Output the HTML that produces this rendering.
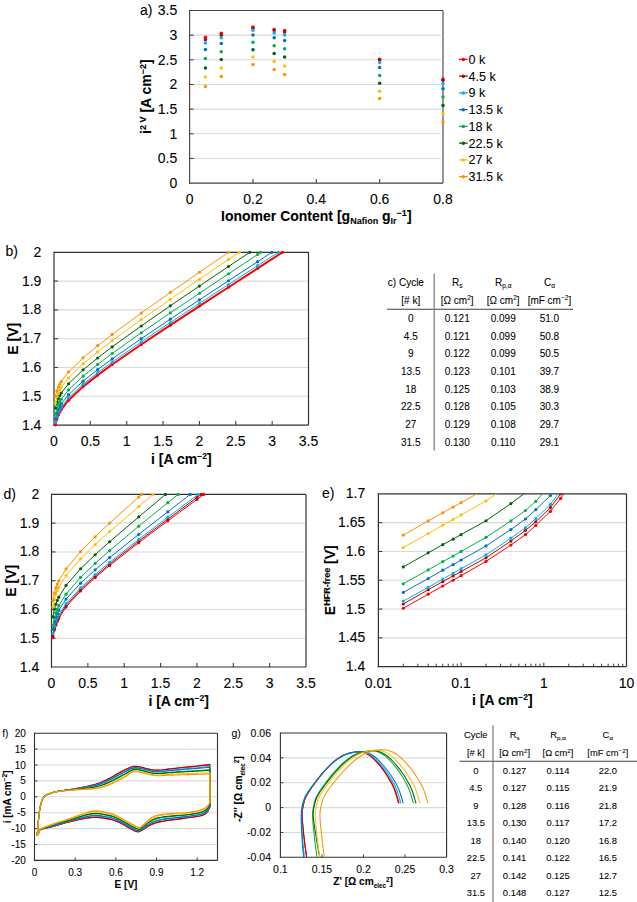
<!DOCTYPE html>
<html><head><meta charset="utf-8"><title>Figure</title>
<style>
html,body{margin:0;padding:0;background:#fff;}
body{width:637px;height:902px;overflow:hidden;}
svg{display:block;font-family:"Liberation Sans", sans-serif;}
text{stroke:#000;stroke-width:0.08px;paint-order:stroke;}
</style></head>
<body>
<svg width="637" height="902" viewBox="0 0 637 902">
<rect x="0" y="0" width="637" height="902" fill="#fff"/>
<line x1="189.6" y1="158.44" x2="441" y2="158.44" stroke="#d9d9d9" stroke-width="1.1" />
<line x1="189.6" y1="158.44" x2="193.6" y2="158.44" stroke="#404040" stroke-width="1.1" />
<line x1="189.6" y1="133.79" x2="441" y2="133.79" stroke="#d9d9d9" stroke-width="1.1" />
<line x1="189.6" y1="133.79" x2="193.6" y2="133.79" stroke="#404040" stroke-width="1.1" />
<line x1="189.6" y1="109.13" x2="441" y2="109.13" stroke="#d9d9d9" stroke-width="1.1" />
<line x1="189.6" y1="109.13" x2="193.6" y2="109.13" stroke="#404040" stroke-width="1.1" />
<line x1="189.6" y1="84.47" x2="441" y2="84.47" stroke="#d9d9d9" stroke-width="1.1" />
<line x1="189.6" y1="84.47" x2="193.6" y2="84.47" stroke="#404040" stroke-width="1.1" />
<line x1="189.6" y1="59.81" x2="441" y2="59.81" stroke="#d9d9d9" stroke-width="1.1" />
<line x1="189.6" y1="59.81" x2="193.6" y2="59.81" stroke="#404040" stroke-width="1.1" />
<line x1="189.6" y1="35.16" x2="441" y2="35.16" stroke="#d9d9d9" stroke-width="1.1" />
<line x1="189.6" y1="35.16" x2="193.6" y2="35.16" stroke="#404040" stroke-width="1.1" />
<line x1="252.95" y1="183.1" x2="252.95" y2="179.1" stroke="#404040" stroke-width="1.1" />
<line x1="316.3" y1="183.1" x2="316.3" y2="179.1" stroke="#404040" stroke-width="1.1" />
<line x1="379.65" y1="183.1" x2="379.65" y2="179.1" stroke="#404040" stroke-width="1.1" />
<line x1="189.6" y1="10.5" x2="443" y2="10.5" stroke="#404040" stroke-width="1.1" />
<line x1="443" y1="10.5" x2="443" y2="183.1" stroke="#404040" stroke-width="1.1" />
<line x1="189.6" y1="9.95" x2="189.6" y2="183.65" stroke="#404040" stroke-width="1.1" />
<line x1="189.05" y1="183.1" x2="443" y2="183.1" stroke="#404040" stroke-width="1.1" />
<text x="177.2" y="187.9" font-size="14" text-anchor="end" font-weight="normal" fill="#000" >0</text>
<text x="177.2" y="163.24" font-size="14" text-anchor="end" font-weight="normal" fill="#000" >0.5</text>
<text x="177.2" y="138.59" font-size="14" text-anchor="end" font-weight="normal" fill="#000" >1</text>
<text x="177.2" y="113.93" font-size="14" text-anchor="end" font-weight="normal" fill="#000" >1.5</text>
<text x="177.2" y="89.27" font-size="14" text-anchor="end" font-weight="normal" fill="#000" >2</text>
<text x="177.2" y="64.61" font-size="14" text-anchor="end" font-weight="normal" fill="#000" >2.5</text>
<text x="177.2" y="39.96" font-size="14" text-anchor="end" font-weight="normal" fill="#000" >3</text>
<text x="177.2" y="15.3" font-size="14" text-anchor="end" font-weight="normal" fill="#000" >3.5</text>
<text x="189.6" y="204.4" font-size="14" text-anchor="middle" font-weight="normal" fill="#000" >0</text>
<text x="252.95" y="204.4" font-size="14" text-anchor="middle" font-weight="normal" fill="#000" >0.2</text>
<text x="316.3" y="204.4" font-size="14" text-anchor="middle" font-weight="normal" fill="#000" >0.4</text>
<text x="379.65" y="204.4" font-size="14" text-anchor="middle" font-weight="normal" fill="#000" >0.6</text>
<text x="443" y="204.4" font-size="14" text-anchor="middle" font-weight="normal" fill="#000" >0.8</text>
<text x="140" y="14.6" font-size="14" text-anchor="start" font-weight="normal" fill="#000" >a)</text>
<text transform="translate(151.4,96.6) rotate(-90)" font-size="14" font-weight="bold" text-anchor="middle">i<tspan font-size="9" dy="-5">2 V</tspan><tspan dy="5"> [A cm</tspan><tspan font-size="9" dy="-5">&#8722;2</tspan><tspan dy="5">]</tspan></text>
<text x="316.3" y="221.2" font-size="14" font-weight="bold" text-anchor="middle">Ionomer Content [g<tspan font-size="9" dy="3">Nafion</tspan><tspan dy="-3"> g</tspan><tspan font-size="9" dy="3">Ir</tspan><tspan font-size="9" dy="-8">&#8722;1</tspan><tspan dy="5">]</tspan></text>
<circle cx="205.44" cy="37.18" r="1.75" fill="#ff0000"/>
<circle cx="221.28" cy="33.18" r="1.75" fill="#ff0000"/>
<circle cx="252.95" cy="27.07" r="1.75" fill="#ff0000"/>
<circle cx="274.17" cy="29.58" r="1.75" fill="#ff0000"/>
<circle cx="284.62" cy="30.57" r="1.75" fill="#ff0000"/>
<circle cx="379.65" cy="59.32" r="1.75" fill="#ff0000"/>
<circle cx="443" cy="79.29" r="1.75" fill="#ff0000"/>
<circle cx="205.44" cy="39.79" r="1.75" fill="#c00000"/>
<circle cx="221.28" cy="35.16" r="1.75" fill="#c00000"/>
<circle cx="252.95" cy="28.25" r="1.75" fill="#c00000"/>
<circle cx="274.17" cy="30.57" r="1.75" fill="#c00000"/>
<circle cx="284.62" cy="32" r="1.75" fill="#c00000"/>
<circle cx="379.65" cy="59.96" r="1.75" fill="#c00000"/>
<circle cx="443" cy="80.28" r="1.75" fill="#c00000"/>
<circle cx="205.44" cy="42.9" r="1.75" fill="#00b0f0"/>
<circle cx="221.28" cy="37.87" r="1.75" fill="#00b0f0"/>
<circle cx="252.95" cy="30.37" r="1.75" fill="#00b0f0"/>
<circle cx="274.17" cy="32.99" r="1.75" fill="#00b0f0"/>
<circle cx="284.62" cy="35.01" r="1.75" fill="#00b0f0"/>
<circle cx="379.65" cy="62.58" r="1.75" fill="#00b0f0"/>
<circle cx="443" cy="83.49" r="1.75" fill="#00b0f0"/>
<circle cx="205.44" cy="49.41" r="1.75" fill="#0070c0"/>
<circle cx="221.28" cy="43.39" r="1.75" fill="#0070c0"/>
<circle cx="252.95" cy="34.91" r="1.75" fill="#0070c0"/>
<circle cx="274.17" cy="37.77" r="1.75" fill="#0070c0"/>
<circle cx="284.62" cy="40.48" r="1.75" fill="#0070c0"/>
<circle cx="379.65" cy="67.61" r="1.75" fill="#0070c0"/>
<circle cx="443" cy="88.81" r="1.75" fill="#0070c0"/>
<circle cx="205.44" cy="58.58" r="1.75" fill="#00b050"/>
<circle cx="221.28" cy="51.68" r="1.75" fill="#00b050"/>
<circle cx="252.95" cy="42.31" r="1.75" fill="#00b050"/>
<circle cx="274.17" cy="45.81" r="1.75" fill="#00b050"/>
<circle cx="284.62" cy="48.67" r="1.75" fill="#00b050"/>
<circle cx="379.65" cy="75.5" r="1.75" fill="#00b050"/>
<circle cx="443" cy="97.1" r="1.75" fill="#00b050"/>
<circle cx="205.44" cy="68" r="1.75" fill="#00640a"/>
<circle cx="221.28" cy="59.57" r="1.75" fill="#00640a"/>
<circle cx="252.95" cy="49.8" r="1.75" fill="#00640a"/>
<circle cx="274.17" cy="53.6" r="1.75" fill="#00640a"/>
<circle cx="284.62" cy="57.1" r="1.75" fill="#00640a"/>
<circle cx="379.65" cy="83.29" r="1.75" fill="#00640a"/>
<circle cx="443" cy="105.58" r="1.75" fill="#00640a"/>
<circle cx="205.44" cy="76.98" r="1.75" fill="#ffc000"/>
<circle cx="221.28" cy="68" r="1.75" fill="#ffc000"/>
<circle cx="252.95" cy="57" r="1.75" fill="#ffc000"/>
<circle cx="274.17" cy="61.59" r="1.75" fill="#ffc000"/>
<circle cx="284.62" cy="65.98" r="1.75" fill="#ffc000"/>
<circle cx="379.65" cy="91.23" r="1.75" fill="#ffc000"/>
<circle cx="443" cy="113.91" r="1.75" fill="#ffc000"/>
<circle cx="205.44" cy="86.39" r="1.75" fill="#ff9200"/>
<circle cx="221.28" cy="76.48" r="1.75" fill="#ff9200"/>
<circle cx="252.95" cy="64.5" r="1.75" fill="#ff9200"/>
<circle cx="274.17" cy="69.58" r="1.75" fill="#ff9200"/>
<circle cx="284.62" cy="74.61" r="1.75" fill="#ff9200"/>
<circle cx="379.65" cy="98.58" r="1.75" fill="#ff9200"/>
<circle cx="443" cy="121.9" r="1.75" fill="#ff9200"/>
<line x1="459" y1="59.4" x2="467.7" y2="59.4" stroke="#ff0000" stroke-width="1.3" />
<circle cx="463.3" cy="59.4" r="1.75" fill="#ff0000"/>
<text x="468.6" y="63.9" font-size="12.6" text-anchor="start" font-weight="normal" fill="#000" >0 k</text>
<line x1="459" y1="76.15" x2="467.7" y2="76.15" stroke="#c00000" stroke-width="1.3" />
<circle cx="463.3" cy="76.15" r="1.75" fill="#c00000"/>
<text x="468.6" y="80.65" font-size="12.6" text-anchor="start" font-weight="normal" fill="#000" >4.5 k</text>
<line x1="459" y1="92.9" x2="467.7" y2="92.9" stroke="#00b0f0" stroke-width="1.3" />
<circle cx="463.3" cy="92.9" r="1.75" fill="#00b0f0"/>
<text x="468.6" y="97.4" font-size="12.6" text-anchor="start" font-weight="normal" fill="#000" >9 k</text>
<line x1="459" y1="109.65" x2="467.7" y2="109.65" stroke="#0070c0" stroke-width="1.3" />
<circle cx="463.3" cy="109.65" r="1.75" fill="#0070c0"/>
<text x="468.6" y="114.15" font-size="12.6" text-anchor="start" font-weight="normal" fill="#000" >13.5 k</text>
<line x1="459" y1="126.4" x2="467.7" y2="126.4" stroke="#00b050" stroke-width="1.3" />
<circle cx="463.3" cy="126.4" r="1.75" fill="#00b050"/>
<text x="468.6" y="130.9" font-size="12.6" text-anchor="start" font-weight="normal" fill="#000" >18 k</text>
<line x1="459" y1="143.15" x2="467.7" y2="143.15" stroke="#00640a" stroke-width="1.3" />
<circle cx="463.3" cy="143.15" r="1.75" fill="#00640a"/>
<text x="468.6" y="147.65" font-size="12.6" text-anchor="start" font-weight="normal" fill="#000" >22.5 k</text>
<line x1="459" y1="159.9" x2="467.7" y2="159.9" stroke="#ffc000" stroke-width="1.3" />
<circle cx="463.3" cy="159.9" r="1.75" fill="#ffc000"/>
<text x="468.6" y="164.4" font-size="12.6" text-anchor="start" font-weight="normal" fill="#000" >27 k</text>
<line x1="459" y1="176.65" x2="467.7" y2="176.65" stroke="#ff9200" stroke-width="1.3" />
<circle cx="463.3" cy="176.65" r="1.75" fill="#ff9200"/>
<text x="468.6" y="181.15" font-size="12.6" text-anchor="start" font-weight="normal" fill="#000" >31.5 k</text>
<line x1="54" y1="396.3" x2="307.5" y2="396.3" stroke="#d9d9d9" stroke-width="1.1" />
<line x1="54" y1="396.3" x2="58" y2="396.3" stroke="#404040" stroke-width="1.1" />
<line x1="54" y1="367.5" x2="307.5" y2="367.5" stroke="#d9d9d9" stroke-width="1.1" />
<line x1="54" y1="367.5" x2="58" y2="367.5" stroke="#404040" stroke-width="1.1" />
<line x1="54" y1="338.7" x2="307.5" y2="338.7" stroke="#d9d9d9" stroke-width="1.1" />
<line x1="54" y1="338.7" x2="58" y2="338.7" stroke="#404040" stroke-width="1.1" />
<line x1="54" y1="309.9" x2="307.5" y2="309.9" stroke="#d9d9d9" stroke-width="1.1" />
<line x1="54" y1="309.9" x2="58" y2="309.9" stroke="#404040" stroke-width="1.1" />
<line x1="54" y1="281.1" x2="307.5" y2="281.1" stroke="#d9d9d9" stroke-width="1.1" />
<line x1="54" y1="281.1" x2="58" y2="281.1" stroke="#404040" stroke-width="1.1" />
<line x1="90.36" y1="425.1" x2="90.36" y2="421.1" stroke="#404040" stroke-width="1.1" />
<line x1="126.71" y1="425.1" x2="126.71" y2="421.1" stroke="#404040" stroke-width="1.1" />
<line x1="163.07" y1="425.1" x2="163.07" y2="421.1" stroke="#404040" stroke-width="1.1" />
<line x1="199.43" y1="425.1" x2="199.43" y2="421.1" stroke="#404040" stroke-width="1.1" />
<line x1="235.79" y1="425.1" x2="235.79" y2="421.1" stroke="#404040" stroke-width="1.1" />
<line x1="272.14" y1="425.1" x2="272.14" y2="421.1" stroke="#404040" stroke-width="1.1" />
<line x1="54" y1="252.3" x2="308.5" y2="252.3" stroke="#303030" stroke-width="1.2" />
<line x1="308.5" y1="252.3" x2="308.5" y2="425.1" stroke="#303030" stroke-width="1.2" />
<line x1="54" y1="251.7" x2="54" y2="425.7" stroke="#303030" stroke-width="1.2" />
<line x1="53.4" y1="425.1" x2="308.5" y2="425.1" stroke="#303030" stroke-width="1.2" />
<polyline points="55.45,424.81 56.91,418.86 58.36,415 59.82,412.02 61.27,409.52 68.54,400.17 83.09,386.61 97.63,375.16 112.17,364.55 141.26,344.48 170.34,325.14 199.43,306.12 228.51,287.26 257.6,268.46 282.47,252.3" fill="none" stroke="#ff0000" stroke-width="2.0" stroke-linejoin="round" />
<circle cx="55.45" cy="424.81" r="1.6" fill="#ff0000"/>
<circle cx="56.91" cy="418.86" r="1.6" fill="#ff0000"/>
<circle cx="58.36" cy="415" r="1.6" fill="#ff0000"/>
<circle cx="59.82" cy="412.02" r="1.6" fill="#ff0000"/>
<circle cx="61.27" cy="409.52" r="1.6" fill="#ff0000"/>
<circle cx="68.54" cy="400.17" r="1.6" fill="#ff0000"/>
<circle cx="83.09" cy="386.61" r="1.6" fill="#ff0000"/>
<circle cx="97.63" cy="375.16" r="1.6" fill="#ff0000"/>
<circle cx="112.17" cy="364.55" r="1.6" fill="#ff0000"/>
<circle cx="141.26" cy="344.48" r="1.6" fill="#ff0000"/>
<circle cx="170.34" cy="325.14" r="1.6" fill="#ff0000"/>
<circle cx="199.43" cy="306.12" r="1.6" fill="#ff0000"/>
<circle cx="228.51" cy="287.26" r="1.6" fill="#ff0000"/>
<circle cx="257.6" cy="268.46" r="1.6" fill="#ff0000"/>
<circle cx="282.47" cy="252.3" r="1.6" fill="#ff0000"/>
<polyline points="55.45,422.31 56.91,416.37 58.36,412.54 59.82,409.58 61.27,407.09 68.54,397.77 83.09,384.19 97.63,372.71 112.17,362.05 141.26,341.9 170.34,322.49 199.43,303.42 228.51,284.52 257.6,265.71 278.47,252.3" fill="none" stroke="#00b0f0" stroke-width="1.0" stroke-linejoin="round" />
<circle cx="55.45" cy="422.31" r="1.6" fill="#00b0f0"/>
<circle cx="56.91" cy="416.37" r="1.6" fill="#00b0f0"/>
<circle cx="58.36" cy="412.54" r="1.6" fill="#00b0f0"/>
<circle cx="59.82" cy="409.58" r="1.6" fill="#00b0f0"/>
<circle cx="61.27" cy="407.09" r="1.6" fill="#00b0f0"/>
<circle cx="68.54" cy="397.77" r="1.6" fill="#00b0f0"/>
<circle cx="83.09" cy="384.19" r="1.6" fill="#00b0f0"/>
<circle cx="97.63" cy="372.71" r="1.6" fill="#00b0f0"/>
<circle cx="112.17" cy="362.05" r="1.6" fill="#00b0f0"/>
<circle cx="141.26" cy="341.9" r="1.6" fill="#00b0f0"/>
<circle cx="170.34" cy="322.49" r="1.6" fill="#00b0f0"/>
<circle cx="199.43" cy="303.42" r="1.6" fill="#00b0f0"/>
<circle cx="228.51" cy="284.52" r="1.6" fill="#00b0f0"/>
<circle cx="257.6" cy="265.71" r="1.6" fill="#00b0f0"/>
<circle cx="278.47" cy="252.3" r="1.6" fill="#00b0f0"/>
<polyline points="55.45,419.05 56.91,413.17 58.36,409.37 59.82,406.43 61.27,403.97 68.54,394.68 83.09,381.13 97.63,369.63 112.17,358.94 141.26,338.69 170.34,319.13 199.43,299.88 228.51,280.77 257.6,261.71 271.85,252.3" fill="none" stroke="#0070c0" stroke-width="1.0" stroke-linejoin="round" />
<circle cx="55.45" cy="419.05" r="1.6" fill="#0070c0"/>
<circle cx="56.91" cy="413.17" r="1.6" fill="#0070c0"/>
<circle cx="58.36" cy="409.37" r="1.6" fill="#0070c0"/>
<circle cx="59.82" cy="406.43" r="1.6" fill="#0070c0"/>
<circle cx="61.27" cy="403.97" r="1.6" fill="#0070c0"/>
<circle cx="68.54" cy="394.68" r="1.6" fill="#0070c0"/>
<circle cx="83.09" cy="381.13" r="1.6" fill="#0070c0"/>
<circle cx="97.63" cy="369.63" r="1.6" fill="#0070c0"/>
<circle cx="112.17" cy="358.94" r="1.6" fill="#0070c0"/>
<circle cx="141.26" cy="338.69" r="1.6" fill="#0070c0"/>
<circle cx="170.34" cy="319.13" r="1.6" fill="#0070c0"/>
<circle cx="199.43" cy="299.88" r="1.6" fill="#0070c0"/>
<circle cx="228.51" cy="280.77" r="1.6" fill="#0070c0"/>
<circle cx="257.6" cy="261.71" r="1.6" fill="#0070c0"/>
<circle cx="271.85" cy="252.3" r="1.6" fill="#0070c0"/>
<polyline points="55.45,414.18 56.91,408.38 58.36,404.62 59.82,401.7 61.27,399.23 68.54,389.91 83.09,376.17 97.63,364.44 112.17,353.52 141.26,332.82 170.34,312.86 199.43,293.25 228.51,273.83 257.6,254.51 260.65,252.3" fill="none" stroke="#00b050" stroke-width="1.0" stroke-linejoin="round" />
<circle cx="55.45" cy="414.18" r="1.6" fill="#00b050"/>
<circle cx="56.91" cy="408.38" r="1.6" fill="#00b050"/>
<circle cx="58.36" cy="404.62" r="1.6" fill="#00b050"/>
<circle cx="59.82" cy="401.7" r="1.6" fill="#00b050"/>
<circle cx="61.27" cy="399.23" r="1.6" fill="#00b050"/>
<circle cx="68.54" cy="389.91" r="1.6" fill="#00b050"/>
<circle cx="83.09" cy="376.17" r="1.6" fill="#00b050"/>
<circle cx="97.63" cy="364.44" r="1.6" fill="#00b050"/>
<circle cx="112.17" cy="353.52" r="1.6" fill="#00b050"/>
<circle cx="141.26" cy="332.82" r="1.6" fill="#00b050"/>
<circle cx="170.34" cy="312.86" r="1.6" fill="#00b050"/>
<circle cx="199.43" cy="293.25" r="1.6" fill="#00b050"/>
<circle cx="228.51" cy="273.83" r="1.6" fill="#00b050"/>
<circle cx="257.6" cy="254.51" r="1.6" fill="#00b050"/>
<circle cx="260.65" cy="252.3" r="1.6" fill="#00b050"/>
<polyline points="55.45,408.09 56.91,402.29 58.36,398.53 59.82,395.6 61.27,393.12 68.54,383.73 83.09,369.84 97.63,357.98 112.17,346.92 141.26,325.98 170.34,305.81 199.43,286.04 228.51,266.5 249.82,252.3" fill="none" stroke="#00640a" stroke-width="1.0" stroke-linejoin="round" />
<circle cx="55.45" cy="408.09" r="1.6" fill="#00640a"/>
<circle cx="56.91" cy="402.29" r="1.6" fill="#00640a"/>
<circle cx="58.36" cy="398.53" r="1.6" fill="#00640a"/>
<circle cx="59.82" cy="395.6" r="1.6" fill="#00640a"/>
<circle cx="61.27" cy="393.12" r="1.6" fill="#00640a"/>
<circle cx="68.54" cy="383.73" r="1.6" fill="#00640a"/>
<circle cx="83.09" cy="369.84" r="1.6" fill="#00640a"/>
<circle cx="97.63" cy="357.98" r="1.6" fill="#00640a"/>
<circle cx="112.17" cy="346.92" r="1.6" fill="#00640a"/>
<circle cx="141.26" cy="325.98" r="1.6" fill="#00640a"/>
<circle cx="170.34" cy="305.81" r="1.6" fill="#00640a"/>
<circle cx="199.43" cy="286.04" r="1.6" fill="#00640a"/>
<circle cx="228.51" cy="266.5" r="1.6" fill="#00640a"/>
<circle cx="249.82" cy="252.3" r="1.6" fill="#00640a"/>
<polyline points="55.45,402.67 56.91,396.7 58.36,392.84 59.82,389.85 61.27,387.32 68.54,377.79 83.09,363.78 97.63,351.84 112.17,340.73 141.26,319.65 170.34,299.29 199.43,279.26 228.51,259.39 239.06,252.3" fill="none" stroke="#ffc000" stroke-width="1.0" stroke-linejoin="round" />
<circle cx="55.45" cy="402.67" r="1.6" fill="#ffc000"/>
<circle cx="56.91" cy="396.7" r="1.6" fill="#ffc000"/>
<circle cx="58.36" cy="392.84" r="1.6" fill="#ffc000"/>
<circle cx="59.82" cy="389.85" r="1.6" fill="#ffc000"/>
<circle cx="61.27" cy="387.32" r="1.6" fill="#ffc000"/>
<circle cx="68.54" cy="377.79" r="1.6" fill="#ffc000"/>
<circle cx="83.09" cy="363.78" r="1.6" fill="#ffc000"/>
<circle cx="97.63" cy="351.84" r="1.6" fill="#ffc000"/>
<circle cx="112.17" cy="340.73" r="1.6" fill="#ffc000"/>
<circle cx="141.26" cy="319.65" r="1.6" fill="#ffc000"/>
<circle cx="170.34" cy="299.29" r="1.6" fill="#ffc000"/>
<circle cx="199.43" cy="279.26" r="1.6" fill="#ffc000"/>
<circle cx="228.51" cy="259.39" r="1.6" fill="#ffc000"/>
<circle cx="239.06" cy="252.3" r="1.6" fill="#ffc000"/>
<polyline points="55.45,396.61 56.91,390.76 58.36,386.95 59.82,383.99 61.27,381.48 68.54,371.95 83.09,357.82 97.63,345.72 112.17,334.45 141.26,313.06 170.34,292.45 199.43,272.24 228.51,252.3" fill="none" stroke="#ff9200" stroke-width="1.0" stroke-linejoin="round" />
<circle cx="55.45" cy="396.61" r="1.6" fill="#ff9200"/>
<circle cx="56.91" cy="390.76" r="1.6" fill="#ff9200"/>
<circle cx="58.36" cy="386.95" r="1.6" fill="#ff9200"/>
<circle cx="59.82" cy="383.99" r="1.6" fill="#ff9200"/>
<circle cx="61.27" cy="381.48" r="1.6" fill="#ff9200"/>
<circle cx="68.54" cy="371.95" r="1.6" fill="#ff9200"/>
<circle cx="83.09" cy="357.82" r="1.6" fill="#ff9200"/>
<circle cx="97.63" cy="345.72" r="1.6" fill="#ff9200"/>
<circle cx="112.17" cy="334.45" r="1.6" fill="#ff9200"/>
<circle cx="141.26" cy="313.06" r="1.6" fill="#ff9200"/>
<circle cx="170.34" cy="292.45" r="1.6" fill="#ff9200"/>
<circle cx="199.43" cy="272.24" r="1.6" fill="#ff9200"/>
<circle cx="228.51" cy="252.3" r="1.6" fill="#ff9200"/>
<text x="41.4" y="429.6" font-size="14" text-anchor="end" font-weight="normal" fill="#000" >1.4</text>
<text x="41.4" y="400.8" font-size="14" text-anchor="end" font-weight="normal" fill="#000" >1.5</text>
<text x="41.4" y="372" font-size="14" text-anchor="end" font-weight="normal" fill="#000" >1.6</text>
<text x="41.4" y="343.2" font-size="14" text-anchor="end" font-weight="normal" fill="#000" >1.7</text>
<text x="41.4" y="314.4" font-size="14" text-anchor="end" font-weight="normal" fill="#000" >1.8</text>
<text x="41.4" y="285.6" font-size="14" text-anchor="end" font-weight="normal" fill="#000" >1.9</text>
<text x="41.4" y="256.8" font-size="14" text-anchor="end" font-weight="normal" fill="#000" >2</text>
<text x="54" y="446.4" font-size="14" text-anchor="middle" font-weight="normal" fill="#000" >0</text>
<text x="90.36" y="446.4" font-size="14" text-anchor="middle" font-weight="normal" fill="#000" >0.5</text>
<text x="126.71" y="446.4" font-size="14" text-anchor="middle" font-weight="normal" fill="#000" >1</text>
<text x="163.07" y="446.4" font-size="14" text-anchor="middle" font-weight="normal" fill="#000" >1.5</text>
<text x="199.43" y="446.4" font-size="14" text-anchor="middle" font-weight="normal" fill="#000" >2</text>
<text x="235.79" y="446.4" font-size="14" text-anchor="middle" font-weight="normal" fill="#000" >2.5</text>
<text x="272.14" y="446.4" font-size="14" text-anchor="middle" font-weight="normal" fill="#000" >3</text>
<text x="308.5" y="446.4" font-size="14" text-anchor="middle" font-weight="normal" fill="#000" >3.5</text>
<text x="5.5" y="255.6" font-size="14" text-anchor="start" font-weight="normal" fill="#000" >b)</text>
<text transform="translate(17.6,338.7) rotate(-90)" font-size="14" font-weight="bold" text-anchor="middle">E [V]</text>
<text x="181.3" y="463.5" font-size="14" font-weight="bold" text-anchor="middle">i [A cm<tspan font-size="8.5" dy="-5">&#8722;2</tspan><tspan dy="5">]</tspan></text>
<text x="387.8" y="286" font-size="10" text-anchor="start" font-weight="normal" fill="#000" >c) Cycle</text>
<text x="457.2" y="286.0" font-size="10" text-anchor="middle">R<tspan font-size="6.5" dy="1.5">s</tspan></text>
<text x="503.2" y="286.0" font-size="10" text-anchor="middle">R<tspan font-size="6.5" dy="1.5">p,&#945;</tspan></text>
<text x="549.4" y="286.0" font-size="10" text-anchor="middle">C<tspan font-size="6.5" dy="1.5">&#945;</tspan></text>
<text x="410.8" y="303.6" font-size="10" text-anchor="middle" font-weight="normal" fill="#000" >[# k]</text>
<text x="457.2" y="303.6" font-size="10" text-anchor="middle">[&#937; cm<tspan font-size="6.5" dy="-3.5">2</tspan><tspan dy="3.5">]</tspan></text>
<text x="503.2" y="303.6" font-size="10" text-anchor="middle">[&#937; cm<tspan font-size="6.5" dy="-3.5">2</tspan><tspan dy="3.5">]</tspan></text>
<text x="549.4" y="303.6" font-size="10" text-anchor="middle">[mF cm<tspan font-size="6.5" dy="-3.5">&#8722;2</tspan><tspan dy="3.5">]</tspan></text>
<line x1="387" y1="309.3" x2="573" y2="309.3" stroke="#404040" stroke-width="1.1" />
<line x1="434.2" y1="273.5" x2="434.2" y2="450.5" stroke="#808080" stroke-width="1.3" />
<text x="410.8" y="321.8" font-size="10" text-anchor="middle" font-weight="normal" fill="#000" >0</text>
<text x="457.2" y="321.8" font-size="10" text-anchor="middle" font-weight="normal" fill="#000" >0.121</text>
<text x="503.2" y="321.8" font-size="10" text-anchor="middle" font-weight="normal" fill="#000" >0.099</text>
<text x="549.4" y="321.8" font-size="10" text-anchor="middle" font-weight="normal" fill="#000" >51.0</text>
<text x="410.8" y="339.52" font-size="10" text-anchor="middle" font-weight="normal" fill="#000" >4.5</text>
<text x="457.2" y="339.52" font-size="10" text-anchor="middle" font-weight="normal" fill="#000" >0.121</text>
<text x="503.2" y="339.52" font-size="10" text-anchor="middle" font-weight="normal" fill="#000" >0.099</text>
<text x="549.4" y="339.52" font-size="10" text-anchor="middle" font-weight="normal" fill="#000" >50.8</text>
<text x="410.8" y="357.24" font-size="10" text-anchor="middle" font-weight="normal" fill="#000" >9</text>
<text x="457.2" y="357.24" font-size="10" text-anchor="middle" font-weight="normal" fill="#000" >0.122</text>
<text x="503.2" y="357.24" font-size="10" text-anchor="middle" font-weight="normal" fill="#000" >0.099</text>
<text x="549.4" y="357.24" font-size="10" text-anchor="middle" font-weight="normal" fill="#000" >50.5</text>
<text x="410.8" y="374.96" font-size="10" text-anchor="middle" font-weight="normal" fill="#000" >13.5</text>
<text x="457.2" y="374.96" font-size="10" text-anchor="middle" font-weight="normal" fill="#000" >0.123</text>
<text x="503.2" y="374.96" font-size="10" text-anchor="middle" font-weight="normal" fill="#000" >0.101</text>
<text x="549.4" y="374.96" font-size="10" text-anchor="middle" font-weight="normal" fill="#000" >39.7</text>
<text x="410.8" y="392.68" font-size="10" text-anchor="middle" font-weight="normal" fill="#000" >18</text>
<text x="457.2" y="392.68" font-size="10" text-anchor="middle" font-weight="normal" fill="#000" >0.125</text>
<text x="503.2" y="392.68" font-size="10" text-anchor="middle" font-weight="normal" fill="#000" >0.103</text>
<text x="549.4" y="392.68" font-size="10" text-anchor="middle" font-weight="normal" fill="#000" >38.9</text>
<text x="410.8" y="410.4" font-size="10" text-anchor="middle" font-weight="normal" fill="#000" >22.5</text>
<text x="457.2" y="410.4" font-size="10" text-anchor="middle" font-weight="normal" fill="#000" >0.128</text>
<text x="503.2" y="410.4" font-size="10" text-anchor="middle" font-weight="normal" fill="#000" >0.105</text>
<text x="549.4" y="410.4" font-size="10" text-anchor="middle" font-weight="normal" fill="#000" >30.3</text>
<text x="410.8" y="428.12" font-size="10" text-anchor="middle" font-weight="normal" fill="#000" >27</text>
<text x="457.2" y="428.12" font-size="10" text-anchor="middle" font-weight="normal" fill="#000" >0.129</text>
<text x="503.2" y="428.12" font-size="10" text-anchor="middle" font-weight="normal" fill="#000" >0.108</text>
<text x="549.4" y="428.12" font-size="10" text-anchor="middle" font-weight="normal" fill="#000" >29.7</text>
<text x="410.8" y="445.84" font-size="10" text-anchor="middle" font-weight="normal" fill="#000" >31.5</text>
<text x="457.2" y="445.84" font-size="10" text-anchor="middle" font-weight="normal" fill="#000" >0.130</text>
<text x="503.2" y="445.84" font-size="10" text-anchor="middle" font-weight="normal" fill="#000" >0.110</text>
<text x="549.4" y="445.84" font-size="10" text-anchor="middle" font-weight="normal" fill="#000" >29.1</text>
<line x1="51.5" y1="638.23" x2="305" y2="638.23" stroke="#d9d9d9" stroke-width="1.1" />
<line x1="51.5" y1="638.23" x2="55.5" y2="638.23" stroke="#404040" stroke-width="1.1" />
<line x1="51.5" y1="609.47" x2="305" y2="609.47" stroke="#d9d9d9" stroke-width="1.1" />
<line x1="51.5" y1="609.47" x2="55.5" y2="609.47" stroke="#404040" stroke-width="1.1" />
<line x1="51.5" y1="580.7" x2="305" y2="580.7" stroke="#d9d9d9" stroke-width="1.1" />
<line x1="51.5" y1="580.7" x2="55.5" y2="580.7" stroke="#404040" stroke-width="1.1" />
<line x1="51.5" y1="551.93" x2="305" y2="551.93" stroke="#d9d9d9" stroke-width="1.1" />
<line x1="51.5" y1="551.93" x2="55.5" y2="551.93" stroke="#404040" stroke-width="1.1" />
<line x1="51.5" y1="523.17" x2="305" y2="523.17" stroke="#d9d9d9" stroke-width="1.1" />
<line x1="51.5" y1="523.17" x2="55.5" y2="523.17" stroke="#404040" stroke-width="1.1" />
<line x1="87.86" y1="667" x2="87.86" y2="663" stroke="#404040" stroke-width="1.1" />
<line x1="124.21" y1="667" x2="124.21" y2="663" stroke="#404040" stroke-width="1.1" />
<line x1="160.57" y1="667" x2="160.57" y2="663" stroke="#404040" stroke-width="1.1" />
<line x1="196.93" y1="667" x2="196.93" y2="663" stroke="#404040" stroke-width="1.1" />
<line x1="233.29" y1="667" x2="233.29" y2="663" stroke="#404040" stroke-width="1.1" />
<line x1="269.64" y1="667" x2="269.64" y2="663" stroke="#404040" stroke-width="1.1" />
<line x1="51.5" y1="494.4" x2="306" y2="494.4" stroke="#303030" stroke-width="1.2" />
<line x1="306" y1="494.4" x2="306" y2="667" stroke="#303030" stroke-width="1.2" />
<line x1="51.5" y1="493.8" x2="51.5" y2="667.6" stroke="#303030" stroke-width="1.2" />
<line x1="50.9" y1="667" x2="306" y2="667" stroke="#303030" stroke-width="1.2" />
<polyline points="52.95,637.63 54.41,630.01 55.86,625.17 57.32,621.47 58.77,618.38 66.04,607.03 80.59,590.99 95.13,577.69 109.67,565.5 138.76,542.64 167.84,520.8 196.93,499.45 203.84,494.4" fill="none" stroke="#ff0000" stroke-width="1.0" stroke-linejoin="round" />
<circle cx="52.95" cy="637.63" r="1.6" fill="#ff0000"/>
<circle cx="54.41" cy="630.01" r="1.6" fill="#ff0000"/>
<circle cx="55.86" cy="625.17" r="1.6" fill="#ff0000"/>
<circle cx="57.32" cy="621.47" r="1.6" fill="#ff0000"/>
<circle cx="58.77" cy="618.38" r="1.6" fill="#ff0000"/>
<circle cx="66.04" cy="607.03" r="1.6" fill="#ff0000"/>
<circle cx="80.59" cy="590.99" r="1.6" fill="#ff0000"/>
<circle cx="95.13" cy="577.69" r="1.6" fill="#ff0000"/>
<circle cx="109.67" cy="565.5" r="1.6" fill="#ff0000"/>
<circle cx="138.76" cy="542.64" r="1.6" fill="#ff0000"/>
<circle cx="167.84" cy="520.8" r="1.6" fill="#ff0000"/>
<circle cx="196.93" cy="499.45" r="1.6" fill="#ff0000"/>
<circle cx="203.84" cy="494.4" r="1.6" fill="#ff0000"/>
<polyline points="52.95,635.91 54.41,628.37 55.86,623.57 57.32,619.9 58.77,616.84 66.04,605.56 80.59,589.57 95.13,576.29 109.67,564.07 138.76,541.12 167.84,519.11 196.93,497.52 201.29,494.4" fill="none" stroke="#c00000" stroke-width="1.0" stroke-linejoin="round" />
<circle cx="52.95" cy="635.91" r="1.6" fill="#c00000"/>
<circle cx="54.41" cy="628.37" r="1.6" fill="#c00000"/>
<circle cx="55.86" cy="623.57" r="1.6" fill="#c00000"/>
<circle cx="57.32" cy="619.9" r="1.6" fill="#c00000"/>
<circle cx="58.77" cy="616.84" r="1.6" fill="#c00000"/>
<circle cx="66.04" cy="605.56" r="1.6" fill="#c00000"/>
<circle cx="80.59" cy="589.57" r="1.6" fill="#c00000"/>
<circle cx="95.13" cy="576.29" r="1.6" fill="#c00000"/>
<circle cx="109.67" cy="564.07" r="1.6" fill="#c00000"/>
<circle cx="138.76" cy="541.12" r="1.6" fill="#c00000"/>
<circle cx="167.84" cy="519.11" r="1.6" fill="#c00000"/>
<circle cx="196.93" cy="497.52" r="1.6" fill="#c00000"/>
<circle cx="201.29" cy="494.4" r="1.6" fill="#c00000"/>
<polyline points="52.95,633.63 54.41,626.2 55.86,621.47 57.32,617.84 58.77,614.82 66.04,603.65 80.59,587.78 95.13,574.54 109.67,562.34 138.76,539.32 167.84,517.13 198.24,494.4" fill="none" stroke="#00b0f0" stroke-width="1.0" stroke-linejoin="round" />
<circle cx="52.95" cy="633.63" r="1.6" fill="#00b0f0"/>
<circle cx="54.41" cy="626.2" r="1.6" fill="#00b0f0"/>
<circle cx="55.86" cy="621.47" r="1.6" fill="#00b0f0"/>
<circle cx="57.32" cy="617.84" r="1.6" fill="#00b0f0"/>
<circle cx="58.77" cy="614.82" r="1.6" fill="#00b0f0"/>
<circle cx="66.04" cy="603.65" r="1.6" fill="#00b0f0"/>
<circle cx="80.59" cy="587.78" r="1.6" fill="#00b0f0"/>
<circle cx="95.13" cy="574.54" r="1.6" fill="#00b0f0"/>
<circle cx="109.67" cy="562.34" r="1.6" fill="#00b0f0"/>
<circle cx="138.76" cy="539.32" r="1.6" fill="#00b0f0"/>
<circle cx="167.84" cy="517.13" r="1.6" fill="#00b0f0"/>
<circle cx="198.24" cy="494.4" r="1.6" fill="#00b0f0"/>
<polyline points="52.95,629.37 54.41,621.84 55.86,617.05 57.32,613.39 58.77,610.33 66.04,599.1 80.59,583.16 95.13,569.86 109.67,557.58 138.76,534.35 167.84,511.83 190.24,494.4" fill="none" stroke="#0070c0" stroke-width="1.0" stroke-linejoin="round" />
<circle cx="52.95" cy="629.37" r="1.6" fill="#0070c0"/>
<circle cx="54.41" cy="621.84" r="1.6" fill="#0070c0"/>
<circle cx="55.86" cy="617.05" r="1.6" fill="#0070c0"/>
<circle cx="57.32" cy="613.39" r="1.6" fill="#0070c0"/>
<circle cx="58.77" cy="610.33" r="1.6" fill="#0070c0"/>
<circle cx="66.04" cy="599.1" r="1.6" fill="#0070c0"/>
<circle cx="80.59" cy="583.16" r="1.6" fill="#0070c0"/>
<circle cx="95.13" cy="569.86" r="1.6" fill="#0070c0"/>
<circle cx="109.67" cy="557.58" r="1.6" fill="#0070c0"/>
<circle cx="138.76" cy="534.35" r="1.6" fill="#0070c0"/>
<circle cx="167.84" cy="511.83" r="1.6" fill="#0070c0"/>
<circle cx="190.24" cy="494.4" r="1.6" fill="#0070c0"/>
<polyline points="52.95,625.59 54.41,617.81 55.86,612.85 57.32,609.04 58.77,605.87 66.04,594.14 80.59,577.41 95.13,563.44 109.67,550.54 138.76,526.18 167.84,502.68 178.1,494.4" fill="none" stroke="#00b050" stroke-width="1.0" stroke-linejoin="round" />
<circle cx="52.95" cy="625.59" r="1.6" fill="#00b050"/>
<circle cx="54.41" cy="617.81" r="1.6" fill="#00b050"/>
<circle cx="55.86" cy="612.85" r="1.6" fill="#00b050"/>
<circle cx="57.32" cy="609.04" r="1.6" fill="#00b050"/>
<circle cx="58.77" cy="605.87" r="1.6" fill="#00b050"/>
<circle cx="66.04" cy="594.14" r="1.6" fill="#00b050"/>
<circle cx="80.59" cy="577.41" r="1.6" fill="#00b050"/>
<circle cx="95.13" cy="563.44" r="1.6" fill="#00b050"/>
<circle cx="109.67" cy="550.54" r="1.6" fill="#00b050"/>
<circle cx="138.76" cy="526.18" r="1.6" fill="#00b050"/>
<circle cx="167.84" cy="502.68" r="1.6" fill="#00b050"/>
<circle cx="178.1" cy="494.4" r="1.6" fill="#00b050"/>
<polyline points="52.95,616.97 54.41,609.14 55.86,604.16 57.32,600.35 58.77,597.18 66.04,585.46 80.59,568.76 95.13,554.75 109.67,541.74 138.76,516.91 165.59,494.4" fill="none" stroke="#00640a" stroke-width="1.0" stroke-linejoin="round" />
<circle cx="52.95" cy="616.97" r="1.6" fill="#00640a"/>
<circle cx="54.41" cy="609.14" r="1.6" fill="#00640a"/>
<circle cx="55.86" cy="604.16" r="1.6" fill="#00640a"/>
<circle cx="57.32" cy="600.35" r="1.6" fill="#00640a"/>
<circle cx="58.77" cy="597.18" r="1.6" fill="#00640a"/>
<circle cx="66.04" cy="585.46" r="1.6" fill="#00640a"/>
<circle cx="80.59" cy="568.76" r="1.6" fill="#00640a"/>
<circle cx="95.13" cy="554.75" r="1.6" fill="#00640a"/>
<circle cx="109.67" cy="541.74" r="1.6" fill="#00640a"/>
<circle cx="138.76" cy="516.91" r="1.6" fill="#00640a"/>
<circle cx="165.59" cy="494.4" r="1.6" fill="#00640a"/>
<polyline points="52.95,606.9 54.41,599.19 55.86,594.26 57.32,590.48 58.77,587.32 66.04,575.61 80.59,558.82 95.13,544.68 109.67,531.56 138.76,506.54 153.01,494.4" fill="none" stroke="#ffc000" stroke-width="1.0" stroke-linejoin="round" />
<circle cx="52.95" cy="606.9" r="1.6" fill="#ffc000"/>
<circle cx="54.41" cy="599.19" r="1.6" fill="#ffc000"/>
<circle cx="55.86" cy="594.26" r="1.6" fill="#ffc000"/>
<circle cx="57.32" cy="590.48" r="1.6" fill="#ffc000"/>
<circle cx="58.77" cy="587.32" r="1.6" fill="#ffc000"/>
<circle cx="66.04" cy="575.61" r="1.6" fill="#ffc000"/>
<circle cx="80.59" cy="558.82" r="1.6" fill="#ffc000"/>
<circle cx="95.13" cy="544.68" r="1.6" fill="#ffc000"/>
<circle cx="109.67" cy="531.56" r="1.6" fill="#ffc000"/>
<circle cx="138.76" cy="506.54" r="1.6" fill="#ffc000"/>
<circle cx="153.01" cy="494.4" r="1.6" fill="#ffc000"/>
<polyline points="52.95,600.58 54.41,592.88 55.86,587.94 57.32,584.12 58.77,580.92 66.04,568.94 80.59,551.54 95.13,536.79 109.67,523.07 138.76,496.99 141.67,494.4" fill="none" stroke="#ff9200" stroke-width="1.0" stroke-linejoin="round" />
<circle cx="52.95" cy="600.58" r="1.6" fill="#ff9200"/>
<circle cx="54.41" cy="592.88" r="1.6" fill="#ff9200"/>
<circle cx="55.86" cy="587.94" r="1.6" fill="#ff9200"/>
<circle cx="57.32" cy="584.12" r="1.6" fill="#ff9200"/>
<circle cx="58.77" cy="580.92" r="1.6" fill="#ff9200"/>
<circle cx="66.04" cy="568.94" r="1.6" fill="#ff9200"/>
<circle cx="80.59" cy="551.54" r="1.6" fill="#ff9200"/>
<circle cx="95.13" cy="536.79" r="1.6" fill="#ff9200"/>
<circle cx="109.67" cy="523.07" r="1.6" fill="#ff9200"/>
<circle cx="138.76" cy="496.99" r="1.6" fill="#ff9200"/>
<circle cx="141.67" cy="494.4" r="1.6" fill="#ff9200"/>
<text x="39.2" y="671.5" font-size="14" text-anchor="end" font-weight="normal" fill="#000" >1.4</text>
<text x="39.2" y="642.73" font-size="14" text-anchor="end" font-weight="normal" fill="#000" >1.5</text>
<text x="39.2" y="613.97" font-size="14" text-anchor="end" font-weight="normal" fill="#000" >1.6</text>
<text x="39.2" y="585.2" font-size="14" text-anchor="end" font-weight="normal" fill="#000" >1.7</text>
<text x="39.2" y="556.43" font-size="14" text-anchor="end" font-weight="normal" fill="#000" >1.8</text>
<text x="39.2" y="527.67" font-size="14" text-anchor="end" font-weight="normal" fill="#000" >1.9</text>
<text x="39.2" y="498.9" font-size="14" text-anchor="end" font-weight="normal" fill="#000" >2</text>
<text x="51.5" y="688.4" font-size="14" text-anchor="middle" font-weight="normal" fill="#000" >0</text>
<text x="87.86" y="688.4" font-size="14" text-anchor="middle" font-weight="normal" fill="#000" >0.5</text>
<text x="124.21" y="688.4" font-size="14" text-anchor="middle" font-weight="normal" fill="#000" >1</text>
<text x="160.57" y="688.4" font-size="14" text-anchor="middle" font-weight="normal" fill="#000" >1.5</text>
<text x="196.93" y="688.4" font-size="14" text-anchor="middle" font-weight="normal" fill="#000" >2</text>
<text x="233.29" y="688.4" font-size="14" text-anchor="middle" font-weight="normal" fill="#000" >2.5</text>
<text x="269.64" y="688.4" font-size="14" text-anchor="middle" font-weight="normal" fill="#000" >3</text>
<text x="306" y="688.4" font-size="14" text-anchor="middle" font-weight="normal" fill="#000" >3.5</text>
<text x="3.5" y="498.8" font-size="14" text-anchor="start" font-weight="normal" fill="#000" >d)</text>
<text transform="translate(16.1,580.7) rotate(-90)" font-size="14" font-weight="bold" text-anchor="middle">E [V]</text>
<text x="178.7" y="705.8" font-size="14" font-weight="bold" text-anchor="middle">i [A cm<tspan font-size="8.5" dy="-5">&#8722;2</tspan><tspan dy="5">]</tspan></text>
<line x1="378.4" y1="637.88" x2="625.5" y2="637.88" stroke="#d9d9d9" stroke-width="1.1" />
<line x1="378.4" y1="637.88" x2="382.4" y2="637.88" stroke="#404040" stroke-width="1.1" />
<line x1="378.4" y1="609.07" x2="625.5" y2="609.07" stroke="#d9d9d9" stroke-width="1.1" />
<line x1="378.4" y1="609.07" x2="382.4" y2="609.07" stroke="#404040" stroke-width="1.1" />
<line x1="378.4" y1="580.25" x2="625.5" y2="580.25" stroke="#d9d9d9" stroke-width="1.1" />
<line x1="378.4" y1="580.25" x2="382.4" y2="580.25" stroke="#404040" stroke-width="1.1" />
<line x1="378.4" y1="551.43" x2="625.5" y2="551.43" stroke="#d9d9d9" stroke-width="1.1" />
<line x1="378.4" y1="551.43" x2="382.4" y2="551.43" stroke="#404040" stroke-width="1.1" />
<line x1="378.4" y1="522.62" x2="625.5" y2="522.62" stroke="#d9d9d9" stroke-width="1.1" />
<line x1="378.4" y1="522.62" x2="382.4" y2="522.62" stroke="#404040" stroke-width="1.1" />
<line x1="403.3" y1="666.7" x2="403.3" y2="663.7" stroke="#404040" stroke-width="1.0" />
<line x1="417.86" y1="666.7" x2="417.86" y2="663.7" stroke="#404040" stroke-width="1.0" />
<line x1="428.19" y1="666.7" x2="428.19" y2="663.7" stroke="#404040" stroke-width="1.0" />
<line x1="436.2" y1="666.7" x2="436.2" y2="663.7" stroke="#404040" stroke-width="1.0" />
<line x1="442.75" y1="666.7" x2="442.75" y2="663.7" stroke="#404040" stroke-width="1.0" />
<line x1="448.29" y1="666.7" x2="448.29" y2="663.7" stroke="#404040" stroke-width="1.0" />
<line x1="453.09" y1="666.7" x2="453.09" y2="663.7" stroke="#404040" stroke-width="1.0" />
<line x1="457.32" y1="666.7" x2="457.32" y2="663.7" stroke="#404040" stroke-width="1.0" />
<line x1="486" y1="666.7" x2="486" y2="663.7" stroke="#404040" stroke-width="1.0" />
<line x1="500.56" y1="666.7" x2="500.56" y2="663.7" stroke="#404040" stroke-width="1.0" />
<line x1="510.89" y1="666.7" x2="510.89" y2="663.7" stroke="#404040" stroke-width="1.0" />
<line x1="518.9" y1="666.7" x2="518.9" y2="663.7" stroke="#404040" stroke-width="1.0" />
<line x1="525.45" y1="666.7" x2="525.45" y2="663.7" stroke="#404040" stroke-width="1.0" />
<line x1="530.99" y1="666.7" x2="530.99" y2="663.7" stroke="#404040" stroke-width="1.0" />
<line x1="535.79" y1="666.7" x2="535.79" y2="663.7" stroke="#404040" stroke-width="1.0" />
<line x1="540.02" y1="666.7" x2="540.02" y2="663.7" stroke="#404040" stroke-width="1.0" />
<line x1="461.1" y1="666.7" x2="461.1" y2="662.7" stroke="#404040" stroke-width="1.1" />
<line x1="568.7" y1="666.7" x2="568.7" y2="663.7" stroke="#404040" stroke-width="1.0" />
<line x1="583.26" y1="666.7" x2="583.26" y2="663.7" stroke="#404040" stroke-width="1.0" />
<line x1="593.59" y1="666.7" x2="593.59" y2="663.7" stroke="#404040" stroke-width="1.0" />
<line x1="601.6" y1="666.7" x2="601.6" y2="663.7" stroke="#404040" stroke-width="1.0" />
<line x1="608.15" y1="666.7" x2="608.15" y2="663.7" stroke="#404040" stroke-width="1.0" />
<line x1="613.69" y1="666.7" x2="613.69" y2="663.7" stroke="#404040" stroke-width="1.0" />
<line x1="618.49" y1="666.7" x2="618.49" y2="663.7" stroke="#404040" stroke-width="1.0" />
<line x1="622.72" y1="666.7" x2="622.72" y2="663.7" stroke="#404040" stroke-width="1.0" />
<line x1="543.8" y1="666.7" x2="543.8" y2="662.7" stroke="#404040" stroke-width="1.1" />
<line x1="378.4" y1="493.8" x2="626.5" y2="493.8" stroke="#303030" stroke-width="1.2" />
<line x1="626.5" y1="493.8" x2="626.5" y2="666.7" stroke="#303030" stroke-width="1.2" />
<line x1="378.4" y1="493.2" x2="378.4" y2="667.3" stroke="#303030" stroke-width="1.2" />
<line x1="377.8" y1="666.7" x2="626.5" y2="666.7" stroke="#303030" stroke-width="1.2" />
<clipPath id="clipE"><rect x="378.4" y="493.8" width="248.10000000000002" height="172.90000000000003"/></clipPath>
<g clip-path="url(#clipE)">
<polyline points="403.3,608.26 428.19,594.2 442.75,586.01 453.09,580.25 461.1,575.64 486,561.4 510.89,545.09 525.45,534.72 535.79,525.5 550.35,511.38 560.68,498.41 568.7,486.88" fill="none" stroke="#ff0000" stroke-width="1.0" stroke-linejoin="round" />
<circle cx="403.3" cy="608.26" r="1.6" fill="#ff0000"/>
<circle cx="428.19" cy="594.2" r="1.6" fill="#ff0000"/>
<circle cx="442.75" cy="586.01" r="1.6" fill="#ff0000"/>
<circle cx="453.09" cy="580.25" r="1.6" fill="#ff0000"/>
<circle cx="461.1" cy="575.64" r="1.6" fill="#ff0000"/>
<circle cx="486" cy="561.4" r="1.6" fill="#ff0000"/>
<circle cx="510.89" cy="545.09" r="1.6" fill="#ff0000"/>
<circle cx="525.45" cy="534.72" r="1.6" fill="#ff0000"/>
<circle cx="535.79" cy="525.5" r="1.6" fill="#ff0000"/>
<circle cx="550.35" cy="511.38" r="1.6" fill="#ff0000"/>
<circle cx="560.68" cy="498.41" r="1.6" fill="#ff0000"/>
<polyline points="403.3,603.99 428.19,589.76 442.75,581.58 453.09,575.93 461.1,571.49 486,557.77 510.89,541.06 525.45,530.34 535.79,521.75 550.35,507.63 560.68,493.8 568.7,482.27" fill="none" stroke="#c00000" stroke-width="1.0" stroke-linejoin="round" />
<circle cx="403.3" cy="603.99" r="1.6" fill="#c00000"/>
<circle cx="428.19" cy="589.76" r="1.6" fill="#c00000"/>
<circle cx="442.75" cy="581.58" r="1.6" fill="#c00000"/>
<circle cx="453.09" cy="575.93" r="1.6" fill="#c00000"/>
<circle cx="461.1" cy="571.49" r="1.6" fill="#c00000"/>
<circle cx="486" cy="557.77" r="1.6" fill="#c00000"/>
<circle cx="510.89" cy="541.06" r="1.6" fill="#c00000"/>
<circle cx="525.45" cy="530.34" r="1.6" fill="#c00000"/>
<circle cx="535.79" cy="521.75" r="1.6" fill="#c00000"/>
<circle cx="550.35" cy="507.63" r="1.6" fill="#c00000"/>
<circle cx="560.68" cy="493.8" r="1.6" fill="#c00000"/>
<polyline points="403.3,601.06 428.19,587.4 442.75,578.98 453.09,573.33 461.1,568.72 486,554.89 510.89,538.18 525.45,527.8 535.79,518.64 550.35,504.4 560.68,490.34" fill="none" stroke="#00b0f0" stroke-width="1.0" stroke-linejoin="round" />
<circle cx="403.3" cy="601.06" r="1.6" fill="#00b0f0"/>
<circle cx="428.19" cy="587.4" r="1.6" fill="#00b0f0"/>
<circle cx="442.75" cy="578.98" r="1.6" fill="#00b0f0"/>
<circle cx="453.09" cy="573.33" r="1.6" fill="#00b0f0"/>
<circle cx="461.1" cy="568.72" r="1.6" fill="#00b0f0"/>
<circle cx="486" cy="554.89" r="1.6" fill="#00b0f0"/>
<circle cx="510.89" cy="538.18" r="1.6" fill="#00b0f0"/>
<circle cx="525.45" cy="527.8" r="1.6" fill="#00b0f0"/>
<circle cx="535.79" cy="518.64" r="1.6" fill="#00b0f0"/>
<circle cx="550.35" cy="504.4" r="1.6" fill="#00b0f0"/>
<polyline points="403.3,592.41 428.19,578.52 442.75,570.22 453.09,564.63 461.1,560.02 486,545.96 510.89,529.53 525.45,518.99 535.79,509.71 550.35,495.53 560.68,481.12" fill="none" stroke="#0070c0" stroke-width="1.0" stroke-linejoin="round" />
<circle cx="403.3" cy="592.41" r="1.6" fill="#0070c0"/>
<circle cx="428.19" cy="578.52" r="1.6" fill="#0070c0"/>
<circle cx="442.75" cy="570.22" r="1.6" fill="#0070c0"/>
<circle cx="453.09" cy="564.63" r="1.6" fill="#0070c0"/>
<circle cx="461.1" cy="560.02" r="1.6" fill="#0070c0"/>
<circle cx="486" cy="545.96" r="1.6" fill="#0070c0"/>
<circle cx="510.89" cy="529.53" r="1.6" fill="#0070c0"/>
<circle cx="525.45" cy="518.99" r="1.6" fill="#0070c0"/>
<circle cx="535.79" cy="509.71" r="1.6" fill="#0070c0"/>
<circle cx="550.35" cy="495.53" r="1.6" fill="#0070c0"/>
<polyline points="403.3,583.82 428.19,569.88 442.75,561.69 453.09,556.04 461.1,551.43 486,537.37 510.89,520.89 525.45,510.51 535.79,501.29 550.35,485.15" fill="none" stroke="#00b050" stroke-width="1.0" stroke-linejoin="round" />
<circle cx="403.3" cy="583.82" r="1.6" fill="#00b050"/>
<circle cx="428.19" cy="569.88" r="1.6" fill="#00b050"/>
<circle cx="442.75" cy="561.69" r="1.6" fill="#00b050"/>
<circle cx="453.09" cy="556.04" r="1.6" fill="#00b050"/>
<circle cx="461.1" cy="551.43" r="1.6" fill="#00b050"/>
<circle cx="486" cy="537.37" r="1.6" fill="#00b050"/>
<circle cx="510.89" cy="520.89" r="1.6" fill="#00b050"/>
<circle cx="525.45" cy="510.51" r="1.6" fill="#00b050"/>
<circle cx="535.79" cy="501.29" r="1.6" fill="#00b050"/>
<polyline points="403.3,566.94 428.19,552.82 442.75,544.63 453.09,539.16 461.1,534.55 486,520.77 510.89,503.6 525.45,492.65 535.79,482.27" fill="none" stroke="#00640a" stroke-width="1.0" stroke-linejoin="round" />
<circle cx="403.3" cy="566.94" r="1.6" fill="#00640a"/>
<circle cx="428.19" cy="552.82" r="1.6" fill="#00640a"/>
<circle cx="442.75" cy="544.63" r="1.6" fill="#00640a"/>
<circle cx="453.09" cy="539.16" r="1.6" fill="#00640a"/>
<circle cx="461.1" cy="534.55" r="1.6" fill="#00640a"/>
<circle cx="486" cy="520.77" r="1.6" fill="#00640a"/>
<circle cx="510.89" cy="503.6" r="1.6" fill="#00640a"/>
<polyline points="403.3,547.51 428.19,533.57 442.75,525.15 453.09,519.45 461.1,514.95 486,500.89 510.89,484" fill="none" stroke="#ffc000" stroke-width="1.0" stroke-linejoin="round" />
<circle cx="403.3" cy="547.51" r="1.6" fill="#ffc000"/>
<circle cx="428.19" cy="533.57" r="1.6" fill="#ffc000"/>
<circle cx="442.75" cy="525.15" r="1.6" fill="#ffc000"/>
<circle cx="453.09" cy="519.45" r="1.6" fill="#ffc000"/>
<circle cx="461.1" cy="514.95" r="1.6" fill="#ffc000"/>
<circle cx="486" cy="500.89" r="1.6" fill="#ffc000"/>
<polyline points="403.3,535.12 428.19,520.89 442.75,512.82 453.09,507.06 461.1,502.68 486,488.61" fill="none" stroke="#ff9200" stroke-width="1.0" stroke-linejoin="round" />
<circle cx="403.3" cy="535.12" r="1.6" fill="#ff9200"/>
<circle cx="428.19" cy="520.89" r="1.6" fill="#ff9200"/>
<circle cx="442.75" cy="512.82" r="1.6" fill="#ff9200"/>
<circle cx="453.09" cy="507.06" r="1.6" fill="#ff9200"/>
<circle cx="461.1" cy="502.68" r="1.6" fill="#ff9200"/>
</g>
<text x="365.3" y="671.2" font-size="14" text-anchor="end" font-weight="normal" fill="#000" >1.4</text>
<text x="365.3" y="642.38" font-size="14" text-anchor="end" font-weight="normal" fill="#000" >1.45</text>
<text x="365.3" y="613.57" font-size="14" text-anchor="end" font-weight="normal" fill="#000" >1.5</text>
<text x="365.3" y="584.75" font-size="14" text-anchor="end" font-weight="normal" fill="#000" >1.55</text>
<text x="365.3" y="555.93" font-size="14" text-anchor="end" font-weight="normal" fill="#000" >1.6</text>
<text x="365.3" y="527.12" font-size="14" text-anchor="end" font-weight="normal" fill="#000" >1.65</text>
<text x="365.3" y="498.3" font-size="14" text-anchor="end" font-weight="normal" fill="#000" >1.7</text>
<text x="378.4" y="687.9" font-size="14" text-anchor="middle" font-weight="normal" fill="#000" >0.01</text>
<text x="461.1" y="687.9" font-size="14" text-anchor="middle" font-weight="normal" fill="#000" >0.1</text>
<text x="543.8" y="687.9" font-size="14" text-anchor="middle" font-weight="normal" fill="#000" >1</text>
<text x="626.5" y="687.9" font-size="14" text-anchor="middle" font-weight="normal" fill="#000" >10</text>
<text x="322" y="498.4" font-size="14" text-anchor="start" font-weight="normal" fill="#000" >e)</text>
<text transform="translate(335.2,580.2) rotate(-90)" font-size="14" font-weight="bold" text-anchor="middle">E<tspan font-size="9" dy="-5">HFR-free</tspan><tspan dy="5"> [V]</tspan></text>
<text x="502.3" y="704.9" font-size="14" font-weight="bold" text-anchor="middle">i [A cm<tspan font-size="8.5" dy="-5">&#8722;2</tspan><tspan dy="5">]</tspan></text>
<line x1="34.5" y1="844.5" x2="216.5" y2="844.5" stroke="#d9d9d9" stroke-width="1.1" />
<line x1="34.5" y1="844.5" x2="37.5" y2="844.5" stroke="#404040" stroke-width="1.0" />
<line x1="34.5" y1="828.6" x2="216.5" y2="828.6" stroke="#d9d9d9" stroke-width="1.1" />
<line x1="34.5" y1="828.6" x2="37.5" y2="828.6" stroke="#404040" stroke-width="1.0" />
<line x1="34.5" y1="812.7" x2="216.5" y2="812.7" stroke="#d9d9d9" stroke-width="1.1" />
<line x1="34.5" y1="812.7" x2="37.5" y2="812.7" stroke="#404040" stroke-width="1.0" />
<line x1="34.5" y1="796.8" x2="216.5" y2="796.8" stroke="#d9d9d9" stroke-width="1.1" />
<line x1="34.5" y1="796.8" x2="37.5" y2="796.8" stroke="#404040" stroke-width="1.0" />
<line x1="34.5" y1="780.9" x2="216.5" y2="780.9" stroke="#d9d9d9" stroke-width="1.1" />
<line x1="34.5" y1="780.9" x2="37.5" y2="780.9" stroke="#404040" stroke-width="1.0" />
<line x1="34.5" y1="765" x2="216.5" y2="765" stroke="#d9d9d9" stroke-width="1.1" />
<line x1="34.5" y1="765" x2="37.5" y2="765" stroke="#404040" stroke-width="1.0" />
<line x1="34.5" y1="749.1" x2="216.5" y2="749.1" stroke="#d9d9d9" stroke-width="1.1" />
<line x1="34.5" y1="749.1" x2="37.5" y2="749.1" stroke="#404040" stroke-width="1.0" />
<line x1="75.17" y1="860.4" x2="75.17" y2="857.4" stroke="#404040" stroke-width="1.0" />
<line x1="115.83" y1="860.4" x2="115.83" y2="857.4" stroke="#404040" stroke-width="1.0" />
<line x1="156.5" y1="860.4" x2="156.5" y2="857.4" stroke="#404040" stroke-width="1.0" />
<line x1="197.17" y1="860.4" x2="197.17" y2="857.4" stroke="#404040" stroke-width="1.0" />
<line x1="34.5" y1="733.2" x2="217.5" y2="733.2" stroke="#303030" stroke-width="1.1" />
<line x1="217.5" y1="733.2" x2="217.5" y2="860.4" stroke="#303030" stroke-width="1.1" />
<line x1="34.5" y1="732.65" x2="34.5" y2="860.95" stroke="#303030" stroke-width="1.1" />
<line x1="33.95" y1="860.4" x2="217.5" y2="860.4" stroke="#303030" stroke-width="1.1" />
<clipPath id="clipF"><rect x="34.5" y="733.2" width="183.0" height="127.19999999999993"/></clipPath>
<g clip-path="url(#clipF)">
<polyline points="37.21,834.96 37.33,833.55 37.49,831.58 37.69,829.26 37.89,826.79 38.1,824.38 38.3,822.24 38.46,820.37 38.61,818.59 38.75,816.87 38.92,815.19 39.12,813.49 39.38,811.75 39.69,809.9 40.04,807.97 40.42,806.03 40.85,804.16 41.31,802.43 41.82,800.93 42.34,799.68 42.88,798.61 43.46,797.68 44.1,796.87 44.86,796.12 45.75,795.4 46.82,794.73 48.04,794.15 49.37,793.63 50.75,793.17 52.14,792.74 53.48,792.35 54.69,792.01 55.8,791.74 56.91,791.51 58.13,791.29 59.57,791.05 61.34,790.76 63.47,790.43 65.88,790.09 68.52,789.73 71.3,789.34 74.17,788.89 77.06,788.37 80.1,787.78 83.35,787.12 86.68,786.42 89.97,785.66 93.09,784.88 95.91,784.08 98.33,783.28 100.46,782.48 102.4,781.65 104.31,780.75 106.3,779.77 108.51,778.67 111,777.37 113.67,775.87 116.43,774.28 119.18,772.71 121.82,771.28 124.24,770.09 126.34,769.09 128.18,768.18 129.91,767.4 131.68,766.8 133.62,766.41 135.9,766.27 138.57,766.53 141.55,767.17 144.71,768.02 147.92,768.91 151.08,769.66 154.06,770.09 156.88,770.17 159.64,770.05 162.35,769.79 164.98,769.45 167.56,769.11 170.06,768.82 172.46,768.57 174.75,768.3 176.99,768.02 179.18,767.74 181.38,767.48 183.61,767.23 185.88,767 188.16,766.79 190.45,766.59 192.72,766.39 194.96,766.18 197.17,765.95 199.47,765.69 201.91,765.39 204.32,765.08 206.54,764.79 208.41,764.54 209.77,764.36 210.04,806.98 209.52,807.86 208.9,809.12 208.11,810.59 207.11,812.11 205.83,813.51 204.22,814.61 202.26,815.4 199.99,816 197.45,816.48 194.67,816.89 191.67,817.31 188.49,817.79 184.9,818.32 180.84,818.85 176.57,819.38 172.34,819.91 168.41,820.44 165.04,820.97 162.29,821.46 159.97,821.91 157.96,822.36 156.11,822.85 154.31,823.43 152.43,824.15 150.43,825.08 148.39,826.22 146.4,827.45 144.53,828.65 142.86,829.71 141.45,830.51 140.41,831.05 139.68,831.44 139.15,831.68 138.69,831.8 138.19,831.83 137.52,831.78 136.77,831.67 136.05,831.47 135.29,831.18 134.4,830.78 133.32,830.24 131.96,829.55 130.23,828.62 128.16,827.43 125.9,826.12 123.58,824.78 121.35,823.56 119.36,822.56 117.7,821.79 116.29,821.17 114.97,820.65 113.58,820.2 111.98,819.79 110,819.38 107.66,818.91 105.08,818.41 102.29,817.95 99.29,817.59 96.12,817.41 92.79,817.47 89.14,817.84 85.11,818.48 80.9,819.3 76.72,820.2 72.75,821.11 69.2,821.92 66.08,822.68 63.23,823.46 60.59,824.25 58.13,825.01 55.77,825.72 53.48,826.37 51.19,826.95 48.95,827.48 46.82,827.96 44.87,828.41 43.18,828.83 41.82,829.24 40.86,829.61 40.27,829.93 39.94,830.23 39.75,830.52 39.6,830.82 39.38,831.14 39.12,831.5 38.92,831.89 38.75,832.28 38.61,832.66 38.46,833.03 38.3,833.37 38.1,833.69 37.89,834.01 37.69,834.3 37.49,834.57 37.33,834.79 37.21,834.96" fill="none" stroke="#ff0000" stroke-width="1.1" stroke-linejoin="round" />
<polyline points="37.21,835.01 37.33,833.6 37.49,831.62 37.69,829.28 37.89,826.8 38.1,824.38 38.3,822.24 38.46,820.36 38.61,818.59 38.75,816.87 38.92,815.18 39.12,813.49 39.38,811.75 39.69,809.9 40.04,807.97 40.42,806.03 40.85,804.16 41.31,802.43 41.82,800.93 42.34,799.68 42.88,798.61 43.46,797.68 44.1,796.87 44.86,796.12 45.75,795.41 46.82,794.74 48.04,794.15 49.37,793.63 50.75,793.17 52.14,792.75 53.48,792.35 54.69,792.01 55.8,791.75 56.91,791.52 58.13,791.3 59.57,791.06 61.34,790.77 63.47,790.45 65.88,790.11 68.52,789.76 71.3,789.37 74.17,788.94 77.06,788.43 80.1,787.85 83.35,787.22 86.68,786.53 89.97,785.8 93.09,785.04 95.91,784.26 98.33,783.47 100.46,782.69 102.4,781.87 104.31,780.99 106.3,780.02 108.51,778.93 111,777.64 113.68,776.15 116.44,774.56 119.18,773 121.82,771.57 124.24,770.38 126.34,769.37 128.17,768.45 129.9,767.66 131.65,767.04 133.59,766.64 135.86,766.49 138.54,766.74 141.52,767.38 144.69,768.23 147.91,769.12 151.08,769.87 154.06,770.3 156.88,770.39 159.65,770.28 162.35,770.02 164.99,769.69 167.56,769.35 170.06,769.07 172.46,768.83 174.75,768.57 176.99,768.3 179.18,768.03 181.38,767.77 183.61,767.52 185.88,767.3 188.16,767.1 190.45,766.91 192.72,766.71 194.96,766.51 197.17,766.29 199.47,766.03 201.91,765.74 204.32,765.44 206.54,765.16 208.41,764.92 209.77,764.75 210.04,806.79 209.52,807.66 208.9,808.91 208.11,810.38 207.11,811.88 205.83,813.27 204.22,814.37 202.26,815.15 199.99,815.76 197.45,816.25 194.67,816.67 191.67,817.09 188.49,817.57 184.9,818.1 180.84,818.61 176.57,819.13 172.34,819.65 168.41,820.17 165.04,820.69 162.29,821.18 159.97,821.62 157.96,822.07 156.11,822.56 154.31,823.15 152.43,823.87 150.43,824.82 148.39,825.98 146.4,827.23 144.53,828.45 142.85,829.53 141.45,830.34 140.42,830.9 139.7,831.28 139.18,831.52 138.73,831.64 138.24,831.66 137.58,831.6 136.82,831.48 136.09,831.28 135.32,830.99 134.42,830.57 133.32,830.03 131.96,829.34 130.23,828.4 128.16,827.22 125.89,825.9 123.58,824.57 121.35,823.34 119.36,822.34 117.7,821.57 116.29,820.94 114.97,820.42 113.58,819.97 111.98,819.55 110,819.14 107.66,818.67 105.08,818.16 102.29,817.69 99.29,817.33 96.12,817.14 92.79,817.22 89.14,817.6 85.11,818.26 80.9,819.11 76.72,820.04 72.75,820.96 69.2,821.79 66.08,822.56 63.23,823.35 60.59,824.14 58.13,824.9 55.77,825.62 53.48,826.27 51.19,826.86 48.95,827.4 46.82,827.89 44.87,828.35 43.18,828.78 41.82,829.2 40.86,829.58 40.27,829.91 39.94,830.21 39.75,830.51 39.6,830.81 39.38,831.14 39.12,831.51 38.92,831.9 38.75,832.3 38.61,832.69 38.46,833.07 38.3,833.41 38.1,833.73 37.89,834.05 37.69,834.35 37.49,834.62 37.33,834.84 37.21,835.01" fill="none" stroke="#c00000" stroke-width="1.1" stroke-linejoin="round" />
<polyline points="37.21,835.24 37.33,833.8 37.49,831.78 37.69,829.4 37.89,826.87 38.1,824.41 38.3,822.24 38.46,820.35 38.61,818.57 38.75,816.86 38.92,815.17 39.12,813.48 39.38,811.75 39.69,809.9 40.04,807.97 40.42,806.03 40.85,804.16 41.31,802.43 41.82,800.93 42.34,799.68 42.88,798.61 43.46,797.7 44.1,796.89 44.86,796.14 45.75,795.43 46.82,794.76 48.04,794.18 49.37,793.66 50.75,793.2 52.14,792.78 53.48,792.38 54.69,792.04 55.8,791.78 56.91,791.55 58.13,791.33 59.57,791.1 61.34,790.83 63.47,790.52 65.88,790.21 68.52,789.89 71.3,789.53 74.17,789.14 77.06,788.69 80.1,788.18 83.35,787.64 86.68,787.05 89.97,786.42 93.09,785.76 95.91,785.06 98.33,784.35 100.46,783.62 102.4,782.86 104.31,782.04 106.3,781.12 108.51,780.07 111,778.83 113.68,777.38 116.45,775.84 119.2,774.31 121.83,772.89 124.24,771.7 126.32,770.66 128.12,769.68 129.81,768.82 131.54,768.12 133.46,767.65 135.72,767.46 138.4,767.69 141.41,768.32 144.61,769.17 147.87,770.07 151.06,770.83 154.06,771.28 156.89,771.39 159.66,771.3 162.36,771.07 164.99,770.77 167.56,770.47 170.06,770.22 172.46,770 174.75,769.78 176.99,769.54 179.18,769.31 181.38,769.08 183.61,768.87 185.88,768.68 188.16,768.51 190.45,768.34 192.72,768.17 194.96,768 197.17,767.81 199.47,767.58 201.91,767.33 204.32,767.07 206.54,766.82 208.41,766.61 209.77,766.46 210.04,805.93 209.52,806.77 208.9,807.98 208.11,809.4 207.11,810.85 205.83,812.2 204.22,813.28 202.26,814.07 199.99,814.7 197.45,815.22 194.67,815.68 191.67,816.12 188.49,816.6 184.9,817.09 180.84,817.57 176.57,818.02 172.34,818.48 168.41,818.94 165.04,819.43 162.29,819.89 159.97,820.32 157.96,820.76 156.11,821.25 154.31,821.85 152.43,822.61 150.42,823.62 148.38,824.87 146.38,826.23 144.51,827.56 142.84,828.72 141.45,829.6 140.45,830.18 139.78,830.56 139.32,830.79 138.92,830.88 138.47,830.88 137.82,830.8 137.05,830.66 136.28,830.43 135.45,830.09 134.5,829.65 133.36,829.08 131.96,828.36 130.22,827.42 128.14,826.23 125.88,824.92 123.57,823.6 121.35,822.37 119.36,821.37 117.7,820.59 116.29,819.94 114.97,819.4 113.58,818.92 111.98,818.48 110,818.05 107.66,817.56 105.08,817.03 102.29,816.53 99.29,816.15 96.12,815.97 92.79,816.07 89.14,816.52 85.11,817.28 80.9,818.24 76.72,819.28 72.75,820.31 69.2,821.22 66.08,822.04 63.23,822.85 60.59,823.64 58.13,824.41 55.77,825.14 53.48,825.81 51.19,826.44 48.95,827.03 46.82,827.57 44.87,828.09 43.18,828.57 41.82,829.03 40.86,829.44 40.27,829.8 39.94,830.13 39.75,830.46 39.6,830.79 39.38,831.14 39.12,831.54 38.92,831.96 38.75,832.39 38.61,832.81 38.46,833.22 38.3,833.58 38.1,833.92 37.89,834.25 37.69,834.56 37.49,834.84 37.33,835.07 37.21,835.24" fill="none" stroke="#00b0f0" stroke-width="1.1" stroke-linejoin="round" />
<polyline points="37.21,835.34 37.33,833.89 37.49,831.85 37.69,829.45 37.89,826.9 38.1,824.42 38.3,822.24 38.46,820.34 38.61,818.56 38.75,816.85 38.92,815.17 39.12,813.48 39.38,811.75 39.69,809.9 40.04,807.97 40.42,806.03 40.85,804.16 41.31,802.43 41.82,800.93 42.34,799.68 42.88,798.62 43.46,797.7 44.1,796.89 44.86,796.15 45.75,795.44 46.82,794.77 48.04,794.19 49.37,793.67 50.75,793.21 52.14,792.79 53.48,792.4 54.69,792.06 55.8,791.79 56.91,791.56 58.13,791.35 59.57,791.12 61.34,790.85 63.47,790.56 65.88,790.26 68.52,789.94 71.3,789.6 74.17,789.23 77.06,788.8 80.1,788.33 83.35,787.83 86.68,787.28 89.97,786.7 93.09,786.08 95.91,785.42 98.33,784.73 100.46,784.04 102.4,783.31 104.31,782.5 106.3,781.6 108.51,780.58 111,779.35 113.68,777.93 116.45,776.4 119.2,774.89 121.83,773.48 124.24,772.28 126.31,771.23 128.1,770.23 129.78,769.33 131.49,768.6 133.39,768.11 135.65,767.89 138.34,768.11 141.36,768.74 144.57,769.59 147.84,770.49 151.05,771.26 154.06,771.71 156.89,771.83 159.66,771.75 162.36,771.53 164.99,771.25 167.56,770.96 170.06,770.72 172.46,770.53 174.75,770.32 176.99,770.1 179.18,769.88 181.38,769.66 183.61,769.47 185.88,769.29 188.16,769.13 190.45,768.98 192.72,768.82 194.96,768.66 197.17,768.48 199.47,768.27 201.91,768.04 204.32,767.79 206.54,767.56 208.41,767.37 209.77,767.23 210.04,805.54 209.52,806.38 208.9,807.57 208.11,808.96 207.11,810.4 205.83,811.73 204.22,812.8 202.26,813.59 199.99,814.23 197.45,814.77 194.67,815.24 191.67,815.69 188.49,816.17 184.9,816.65 180.84,817.1 176.57,817.53 172.34,817.96 168.41,818.4 165.04,818.87 162.29,819.32 159.97,819.74 157.96,820.18 156.11,820.67 154.31,821.28 152.43,822.05 150.42,823.09 148.38,824.38 146.38,825.78 144.5,827.16 142.83,828.37 141.45,829.27 140.46,829.86 139.82,830.24 139.38,830.46 139.01,830.55 138.57,830.53 137.93,830.44 137.15,830.29 136.37,830.05 135.51,829.7 134.53,829.24 133.37,828.65 131.96,827.93 130.21,826.98 128.13,825.8 125.87,824.49 123.57,823.17 121.35,821.94 119.36,820.94 117.7,820.15 116.29,819.49 114.97,818.94 113.58,818.45 111.98,818.01 110,817.57 107.66,817.07 105.08,816.52 102.29,816.02 99.29,815.63 96.12,815.45 92.79,815.56 89.14,816.04 85.11,816.84 80.9,817.85 76.72,818.95 72.75,820.03 69.2,820.97 66.08,821.8 63.23,822.62 60.59,823.42 58.13,824.19 55.77,824.92 53.48,825.61 51.19,826.26 48.95,826.86 46.82,827.43 44.87,827.97 43.18,828.47 41.82,828.95 40.86,829.38 40.27,829.75 39.94,830.1 39.75,830.43 39.6,830.77 39.38,831.14 39.12,831.55 38.92,831.99 38.75,832.43 38.61,832.87 38.46,833.28 38.3,833.66 38.1,834 37.89,834.34 37.69,834.66 37.49,834.94 37.33,835.17 37.21,835.34" fill="none" stroke="#0070c0" stroke-width="1.1" stroke-linejoin="round" />
<polyline points="37.21,835.66 37.33,834.17 37.49,832.07 37.69,829.61 37.89,826.99 38.1,824.46 38.3,822.24 38.46,820.33 38.61,818.54 38.75,816.83 38.92,815.16 39.12,813.48 39.38,811.75 39.69,809.9 40.04,807.97 40.42,806.03 40.85,804.15 41.31,802.43 41.82,800.93 42.34,799.69 42.88,798.63 43.46,797.72 44.1,796.91 44.86,796.18 45.75,795.47 46.82,794.81 48.04,794.22 49.37,793.71 50.75,793.24 52.14,792.82 53.48,792.44 54.69,792.1 55.8,791.83 56.91,791.61 58.13,791.4 59.57,791.18 61.34,790.93 63.47,790.66 65.88,790.39 68.52,790.12 71.3,789.82 74.17,789.51 77.06,789.16 80.1,788.79 83.35,788.41 86.68,788.01 89.97,787.57 93.09,787.08 95.91,786.53 98.33,785.95 100.46,785.34 102.4,784.69 104.31,783.96 106.3,783.13 108.51,782.17 111.01,781.01 113.69,779.64 116.46,778.17 119.22,776.7 121.84,775.31 124.24,774.11 126.28,773.01 128.03,771.93 129.66,770.94 131.33,770.11 133.2,769.52 135.45,769.25 138.15,769.43 141.2,770.04 144.46,770.9 147.78,771.81 151.02,772.59 154.06,773.06 156.91,773.2 159.68,773.16 162.37,772.99 165,772.75 167.56,772.5 170.06,772.31 172.46,772.16 174.75,772 176.99,771.83 179.18,771.65 181.38,771.49 183.61,771.34 185.88,771.2 188.16,771.08 190.45,770.96 192.72,770.85 194.96,770.72 197.17,770.59 199.47,770.43 201.91,770.24 204.32,770.05 206.54,769.87 208.41,769.72 209.77,769.61 210.04,804.35 209.52,805.15 208.9,806.28 208.11,807.6 207.11,808.97 205.83,810.25 204.22,811.28 202.26,812.08 199.99,812.76 197.45,813.34 194.67,813.85 191.67,814.34 188.49,814.81 184.9,815.26 180.84,815.64 176.57,815.99 172.34,816.33 168.41,816.7 165.04,817.12 162.29,817.54 159.97,817.94 157.96,818.36 156.11,818.86 154.31,819.48 152.43,820.3 150.42,821.43 148.36,822.85 146.35,824.4 144.48,825.92 142.81,827.25 141.45,828.23 140.51,828.86 139.93,829.25 139.57,829.45 139.27,829.5 138.89,829.45 138.27,829.33 137.47,829.14 136.63,828.86 135.7,828.46 134.65,827.95 133.42,827.33 131.96,826.58 130.19,825.62 128.11,824.43 125.85,823.13 123.55,821.82 121.34,820.6 119.36,819.58 117.7,818.78 116.29,818.1 114.97,817.51 113.58,817 111.98,816.52 110,816.05 107.66,815.53 105.08,814.95 102.29,814.41 99.29,814 96.12,813.82 92.79,813.97 89.14,814.54 85.11,815.48 80.9,816.64 76.72,817.9 72.75,819.12 69.2,820.17 66.08,821.07 63.23,821.92 60.59,822.73 58.13,823.5 55.77,824.25 53.48,824.97 51.19,825.67 48.95,826.35 46.82,826.99 44.87,827.6 43.18,828.18 41.82,828.71 40.86,829.19 40.27,829.61 39.94,829.99 39.75,830.36 39.6,830.74 39.38,831.14 39.12,831.6 38.92,832.07 38.75,832.56 38.61,833.04 38.46,833.49 38.3,833.89 38.1,834.27 37.89,834.62 37.69,834.95 37.49,835.24 37.33,835.48 37.21,835.66" fill="none" stroke="#00b050" stroke-width="1.1" stroke-linejoin="round" />
<polyline points="37.21,835.75 37.33,834.24 37.49,832.13 37.69,829.65 37.89,827.02 38.1,824.47 38.3,822.24 38.46,820.32 38.61,818.53 38.75,816.82 38.92,815.16 39.12,813.48 39.38,811.75 39.69,809.9 40.04,807.97 40.42,806.03 40.85,804.15 41.31,802.43 41.82,800.93 42.34,799.69 42.88,798.63 43.46,797.72 44.1,796.92 44.86,796.19 45.75,795.48 46.82,794.82 48.04,794.23 49.37,793.72 50.75,793.25 52.14,792.83 53.48,792.45 54.69,792.11 55.8,791.84 56.91,791.62 58.13,791.41 59.57,791.2 61.34,790.96 63.47,790.69 65.88,790.43 68.52,790.17 71.3,789.89 74.17,789.59 77.06,789.26 80.1,788.92 83.35,788.57 86.68,788.21 89.97,787.81 93.09,787.36 95.91,786.84 98.33,786.28 100.46,785.71 102.4,785.08 104.31,784.37 106.3,783.56 108.51,782.62 111.01,781.47 113.69,780.12 116.47,778.67 119.22,777.21 121.85,775.83 124.24,774.62 126.27,773.51 128.02,772.41 129.63,771.39 131.29,770.53 133.15,769.91 135.39,769.62 138.1,769.8 141.16,770.41 144.42,771.26 147.76,772.17 151.02,772.96 154.06,773.44 156.91,773.59 159.68,773.55 162.38,773.39 165,773.17 167.56,772.94 170.06,772.76 172.46,772.62 174.75,772.47 176.99,772.31 179.18,772.15 181.38,772 183.61,771.86 185.88,771.74 188.16,771.62 190.45,771.52 192.72,771.41 194.96,771.3 197.17,771.18 199.47,771.03 201.91,770.86 204.32,770.69 206.54,770.52 208.41,770.38 209.77,770.28 210.04,804.02 209.52,804.8 208.9,805.91 208.11,807.22 207.11,808.57 205.83,809.83 204.22,810.86 202.26,811.66 199.99,812.35 197.45,812.94 194.67,813.47 191.67,813.96 188.49,814.44 184.9,814.87 180.84,815.23 176.57,815.56 172.34,815.88 168.41,816.22 165.04,816.63 162.29,817.05 159.97,817.43 157.96,817.85 156.11,818.35 154.31,818.98 152.43,819.81 150.42,820.96 148.36,822.42 146.35,824.01 144.47,825.57 142.81,826.94 141.45,827.94 140.52,828.58 139.96,828.97 139.62,829.17 139.35,829.21 138.98,829.15 138.36,829.02 137.56,828.82 136.7,828.52 135.76,828.12 134.68,827.6 133.43,826.96 131.96,826.2 130.18,825.24 128.1,824.05 125.85,822.75 123.55,821.44 121.34,820.22 119.36,819.21 117.7,818.4 116.29,817.71 114.97,817.11 113.58,816.59 111.98,816.1 110,815.63 107.66,815.1 105.08,814.51 102.29,813.95 99.29,813.54 96.12,813.37 92.79,813.53 89.14,814.12 85.11,815.09 80.9,816.3 76.72,817.61 72.75,818.87 69.2,819.95 66.08,820.86 63.23,821.72 60.59,822.53 58.13,823.31 55.77,824.07 53.48,824.8 51.19,825.51 48.95,826.2 46.82,826.87 44.87,827.5 43.18,828.09 41.82,828.64 40.86,829.14 40.27,829.57 39.94,829.96 39.75,830.34 39.6,830.72 39.38,831.14 39.12,831.61 38.92,832.1 38.75,832.6 38.61,833.09 38.46,833.55 38.3,833.96 38.1,834.34 37.89,834.7 37.69,835.03 37.49,835.32 37.33,835.57 37.21,835.75" fill="none" stroke="#00640a" stroke-width="1.1" stroke-linejoin="round" />
<polyline points="37.21,836.08 37.33,834.53 37.49,832.37 37.69,829.82 37.89,827.12 38.1,824.51 38.3,822.24 38.46,820.3 38.61,818.51 38.75,816.8 38.92,815.14 39.12,813.47 39.38,811.75 39.69,809.9 40.04,807.97 40.42,806.02 40.85,804.15 41.31,802.43 41.82,800.93 42.34,799.69 42.88,798.64 43.46,797.74 44.1,796.94 44.86,796.22 45.75,795.51 46.82,794.85 48.04,794.27 49.37,793.75 50.75,793.29 52.14,792.87 53.48,792.49 54.69,792.15 55.8,791.89 56.91,791.66 58.13,791.46 59.57,791.26 61.34,791.04 63.47,790.8 65.88,790.57 68.52,790.35 71.3,790.12 74.17,789.88 77.06,789.63 80.1,789.4 83.35,789.18 86.68,788.96 89.97,788.71 93.09,788.39 95.91,788 98.33,787.54 100.46,787.06 102.4,786.52 104.31,785.89 106.3,785.15 108.51,784.27 111.01,783.19 113.7,781.9 116.48,780.51 119.24,779.09 121.86,777.73 124.24,776.52 126.25,775.37 127.95,774.18 129.51,773.05 131.12,772.09 132.95,771.38 135.18,771.03 137.9,771.18 140.99,771.77 144.3,772.62 147.69,773.54 150.99,774.35 154.06,774.85 156.92,775.02 159.7,775.02 162.39,774.91 165.01,774.73 167.56,774.54 170.06,774.41 172.46,774.32 174.75,774.22 176.99,774.11 179.18,774 181.38,773.9 183.61,773.8 185.88,773.72 188.16,773.65 190.45,773.59 192.72,773.52 194.96,773.45 197.17,773.37 199.47,773.27 201.91,773.16 204.32,773.04 206.54,772.92 208.41,772.83 209.77,772.76 210.04,802.78 209.52,803.52 208.9,804.57 208.11,805.8 207.11,807.08 205.83,808.29 204.22,809.29 202.26,810.1 199.99,810.82 197.45,811.46 194.67,812.03 191.67,812.55 188.49,813.03 184.9,813.42 180.84,813.72 176.57,813.96 172.34,814.19 168.41,814.46 165.04,814.81 162.29,815.19 159.97,815.56 157.96,815.96 156.11,816.46 154.31,817.12 152.43,817.99 150.41,819.23 148.35,820.82 146.33,822.57 144.44,824.28 142.79,825.78 141.45,826.87 140.57,827.54 140.08,827.94 139.82,828.11 139.62,828.12 139.31,828.02 138.72,827.86 137.89,827.63 136.98,827.29 135.96,826.83 134.8,826.26 133.47,825.58 131.96,824.8 130.16,823.82 128.08,822.64 125.82,821.34 123.54,820.04 121.34,818.82 119.36,817.8 117.7,816.97 116.29,816.26 114.97,815.63 113.58,815.07 111.98,814.56 110,814.06 107.66,813.5 105.08,812.87 102.29,812.28 99.29,811.85 96.12,811.67 92.79,811.87 89.14,812.56 85.11,813.67 80.9,815.05 76.72,816.52 72.75,817.94 69.2,819.12 66.08,820.1 63.23,820.99 60.59,821.82 58.13,822.6 55.77,823.37 53.48,824.14 51.19,824.91 48.95,825.67 46.82,826.41 44.87,827.12 43.18,827.78 41.82,828.4 40.86,828.94 40.27,829.41 39.94,829.84 39.75,830.26 39.6,830.69 39.38,831.14 39.12,831.65 38.92,832.19 38.75,832.73 38.61,833.26 38.46,833.76 38.3,834.21 38.1,834.61 37.89,834.99 37.69,835.34 37.49,835.64 37.33,835.89 37.21,836.08" fill="none" stroke="#ffc000" stroke-width="1.1" stroke-linejoin="round" />
<polyline points="37.21,836.23 37.33,834.67 37.49,832.47 37.69,829.89 37.89,827.16 38.1,824.53 38.3,822.24 38.46,820.29 38.61,818.49 38.75,816.79 38.92,815.14 39.12,813.47 39.38,811.75 39.69,809.9 40.04,807.97 40.42,806.02 40.85,804.15 41.31,802.43 41.82,800.93 42.34,799.69 42.88,798.64 43.46,797.74 44.1,796.95 44.86,796.23 45.75,795.53 46.82,794.87 48.04,794.29 49.37,793.77 50.75,793.31 52.14,792.89 53.48,792.51 54.69,792.17 55.8,791.91 56.91,791.68 58.13,791.48 59.57,791.29 61.34,791.08 63.47,790.85 65.88,790.64 68.52,790.43 71.3,790.22 74.17,790.01 77.06,789.8 80.1,789.62 83.35,789.46 86.68,789.31 89.97,789.12 93.09,788.87 95.91,788.53 98.33,788.13 100.46,787.68 102.4,787.18 104.31,786.59 106.3,785.88 108.51,785.03 111.01,783.98 113.7,782.73 116.49,781.36 119.24,779.96 121.86,778.61 124.24,777.4 126.23,776.23 127.91,775 129.46,773.82 131.05,772.81 132.86,772.06 135.08,771.68 137.81,771.81 140.92,772.4 144.25,773.25 147.65,774.17 150.98,774.99 154.06,775.49 156.93,775.68 159.7,775.7 162.4,775.6 165.01,775.45 167.57,775.29 170.06,775.18 172.46,775.1 174.75,775.02 176.99,774.94 179.18,774.85 181.38,774.77 183.61,774.7 185.88,774.64 188.16,774.59 190.45,774.54 192.72,774.49 194.96,774.44 197.17,774.38 199.47,774.31 201.91,774.22 204.32,774.12 206.54,774.03 208.41,773.96 209.77,773.9 210.04,802.21 209.52,802.93 208.9,803.95 208.11,805.15 207.11,806.4 205.83,807.58 204.22,808.57 202.26,809.37 199.99,810.11 197.45,810.77 194.67,811.37 191.67,811.9 188.49,812.38 184.9,812.76 180.84,813.02 176.57,813.22 172.34,813.41 168.41,813.64 165.04,813.97 162.29,814.34 159.97,814.69 157.96,815.09 156.11,815.59 154.31,816.25 152.43,817.15 150.41,818.44 148.34,820.08 146.32,821.9 144.43,823.69 142.78,825.25 141.45,826.37 140.59,827.06 140.13,827.46 139.91,827.63 139.75,827.62 139.46,827.5 138.88,827.33 138.04,827.08 137.11,826.72 136.05,826.23 134.85,825.64 133.5,824.95 131.96,824.15 130.16,823.17 128.06,821.98 125.81,820.69 123.53,819.39 121.34,818.18 119.36,817.15 117.7,816.31 116.29,815.59 114.97,814.95 113.58,814.37 111.98,813.84 110,813.34 107.66,812.76 105.08,812.11 102.29,811.51 99.29,811.06 96.12,810.89 92.79,811.11 89.14,811.84 85.11,813.02 80.9,814.47 76.72,816.02 72.75,817.5 69.2,818.74 66.08,819.74 63.23,820.65 60.59,821.48 58.13,822.28 55.77,823.05 53.48,823.83 51.19,824.63 48.95,825.42 46.82,826.2 44.87,826.94 43.18,827.64 41.82,828.28 40.86,828.85 40.27,829.34 39.94,829.79 39.75,830.23 39.6,830.67 39.38,831.14 39.12,831.67 38.92,832.23 38.75,832.79 38.61,833.35 38.46,833.86 38.3,834.32 38.1,834.74 37.89,835.12 37.69,835.48 37.49,835.78 37.33,836.04 37.21,836.23" fill="none" stroke="#ff9200" stroke-width="1.1" stroke-linejoin="round" />
</g>
<text x="25.8" y="863.9" font-size="10" text-anchor="end" font-weight="normal" fill="#000" >-20</text>
<text x="25.8" y="848" font-size="10" text-anchor="end" font-weight="normal" fill="#000" >-15</text>
<text x="25.8" y="832.1" font-size="10" text-anchor="end" font-weight="normal" fill="#000" >-10</text>
<text x="25.8" y="816.2" font-size="10" text-anchor="end" font-weight="normal" fill="#000" >-5</text>
<text x="25.8" y="800.3" font-size="10" text-anchor="end" font-weight="normal" fill="#000" >0</text>
<text x="25.8" y="784.4" font-size="10" text-anchor="end" font-weight="normal" fill="#000" >5</text>
<text x="25.8" y="768.5" font-size="10" text-anchor="end" font-weight="normal" fill="#000" >10</text>
<text x="25.8" y="752.6" font-size="10" text-anchor="end" font-weight="normal" fill="#000" >15</text>
<text x="25.8" y="736.7" font-size="10" text-anchor="end" font-weight="normal" fill="#000" >20</text>
<text x="34.5" y="876" font-size="10" text-anchor="middle" font-weight="normal" fill="#000" >0</text>
<text x="75.17" y="876" font-size="10" text-anchor="middle" font-weight="normal" fill="#000" >0.3</text>
<text x="115.83" y="876" font-size="10" text-anchor="middle" font-weight="normal" fill="#000" >0.6</text>
<text x="156.5" y="876" font-size="10" text-anchor="middle" font-weight="normal" fill="#000" >0.9</text>
<text x="197.17" y="876" font-size="10" text-anchor="middle" font-weight="normal" fill="#000" >1.2</text>
<text x="2.2" y="736.8" font-size="10" text-anchor="start" font-weight="normal" fill="#000" >f)</text>
<text transform="translate(10.6,796.8) rotate(-90)" font-size="10" font-weight="bold" text-anchor="middle">i [mA cm<tspan font-size="6.8" dy="-4">&#8722;2</tspan><tspan dy="4">]</tspan></text>
<text x="126" y="888.3" font-size="10" font-weight="bold" text-anchor="middle">E [V]</text>
<line x1="280.4" y1="832.44" x2="445.6" y2="832.44" stroke="#d9d9d9" stroke-width="1.1" />
<line x1="280.4" y1="832.44" x2="283.4" y2="832.44" stroke="#404040" stroke-width="1.0" />
<line x1="280.4" y1="807.58" x2="445.6" y2="807.58" stroke="#d9d9d9" stroke-width="1.1" />
<line x1="280.4" y1="807.58" x2="283.4" y2="807.58" stroke="#404040" stroke-width="1.0" />
<line x1="280.4" y1="782.72" x2="445.6" y2="782.72" stroke="#d9d9d9" stroke-width="1.1" />
<line x1="280.4" y1="782.72" x2="283.4" y2="782.72" stroke="#404040" stroke-width="1.0" />
<line x1="280.4" y1="757.86" x2="445.6" y2="757.86" stroke="#d9d9d9" stroke-width="1.1" />
<line x1="280.4" y1="757.86" x2="283.4" y2="757.86" stroke="#404040" stroke-width="1.0" />
<line x1="321.95" y1="857.3" x2="321.95" y2="854.3" stroke="#404040" stroke-width="1.0" />
<line x1="363.5" y1="857.3" x2="363.5" y2="854.3" stroke="#404040" stroke-width="1.0" />
<line x1="405.05" y1="857.3" x2="405.05" y2="854.3" stroke="#404040" stroke-width="1.0" />
<line x1="280.4" y1="733" x2="446.6" y2="733" stroke="#303030" stroke-width="1.1" />
<line x1="446.6" y1="733" x2="446.6" y2="857.3" stroke="#303030" stroke-width="1.1" />
<line x1="280.4" y1="732.45" x2="280.4" y2="857.85" stroke="#303030" stroke-width="1.1" />
<line x1="279.85" y1="857.3" x2="446.6" y2="857.3" stroke="#303030" stroke-width="1.1" />
<clipPath id="clipG"><rect x="280.4" y="733.0" width="166.20000000000005" height="124.29999999999995"/></clipPath>
<g clip-path="url(#clipG)">
<polyline points="306.66,857.3 306.47,855.96 306.2,854.11 305.88,851.92 305.54,849.55 305.21,847.14 304.91,844.87 304.65,842.72 304.39,840.57 304.14,838.38 303.89,836.15 303.65,833.85 303.42,831.45 303.17,828.86 302.89,826.1 302.62,823.26 302.39,820.46 302.23,817.8 302.17,815.41 302.21,813.3 302.33,811.4 302.51,809.65 302.76,807.99 303.07,806.36 303.42,804.72 303.79,803.12 304.18,801.61 304.62,800.15 305.15,798.66 305.82,797.09 306.66,795.4 307.68,793.56 308.87,791.63 310.19,789.62 311.61,787.55 313.1,785.45 314.64,783.34 316.26,781.16 317.99,778.89 319.79,776.57 321.63,774.29 323.47,772.09 325.27,770.04 327.05,768.11 328.82,766.25 330.59,764.48 332.37,762.81 334.14,761.26 335.91,759.85 337.65,758.58 339.36,757.44 341.06,756.42 342.81,755.52 344.62,754.71 346.55,754.01 348.64,753.36 350.88,752.79 353.2,752.31 355.51,751.98 357.75,751.83 359.84,751.89 361.77,752.17 363.58,752.61 365.32,753.24 367.03,754.05 368.73,755.05 370.48,756.24 372.29,757.7 374.15,759.44 376.01,761.36 377.83,763.39 379.57,765.44 381.2,767.43 382.72,769.39 384.16,771.4 385.53,773.43 386.82,775.45 388.03,777.44 389.18,779.36 390.23,781.19 391.2,782.92 392.09,784.62 392.92,786.34 393.72,788.14 394.5,790.05 395.28,792.27 396.07,794.79 396.82,797.37 397.5,799.81 398.07,801.88 398.49,803.35" fill="none" stroke="#ff0000" stroke-width="1.05" stroke-linejoin="round" />
<polyline points="306.66,857.3 306.47,855.96 306.2,854.11 305.88,851.92 305.54,849.55 305.21,847.14 304.91,844.87 304.65,842.72 304.39,840.57 304.14,838.38 303.89,836.15 303.65,833.85 303.42,831.45 303.17,828.86 302.89,826.1 302.62,823.26 302.39,820.46 302.23,817.8 302.17,815.41 302.21,813.3 302.33,811.4 302.52,809.65 302.77,807.99 303.07,806.36 303.43,804.72 303.8,803.12 304.19,801.61 304.63,800.15 305.17,798.66 305.84,797.09 306.69,795.4 307.72,793.56 308.91,791.63 310.23,789.62 311.66,787.55 313.16,785.45 314.71,783.34 316.34,781.16 318.08,778.89 319.9,776.57 321.75,774.29 323.6,772.09 325.41,770.04 327.2,768.11 328.98,766.25 330.76,764.48 332.55,762.81 334.33,761.26 336.11,759.85 337.87,758.58 339.58,757.44 341.3,756.42 343.05,755.52 344.88,754.71 346.82,754.01 348.92,753.36 351.18,752.79 353.5,752.31 355.83,751.98 358.09,751.83 360.19,751.89 362.13,752.17 363.95,752.61 365.7,753.24 367.42,754.05 369.14,755.05 370.89,756.24 372.72,757.7 374.58,759.44 376.45,761.36 378.28,763.39 380.04,765.44 381.68,767.43 383.21,769.39 384.66,771.4 386.03,773.43 387.33,775.45 388.55,777.44 389.7,779.36 390.77,781.19 391.73,782.92 392.63,784.62 393.47,786.34 394.27,788.14 395.05,790.05 395.85,792.27 396.64,794.79 397.39,797.37 398.08,799.81 398.65,801.88 399.07,803.35" fill="none" stroke="#c00000" stroke-width="1.05" stroke-linejoin="round" />
<polyline points="304.42,857.3 304.28,855.96 304.08,854.11 303.85,851.92 303.61,849.55 303.37,847.14 303.16,844.87 302.98,842.72 302.81,840.56 302.64,838.38 302.49,836.15 302.34,833.84 302.2,831.45 302.06,828.86 301.9,826.1 301.76,823.27 301.64,820.47 301.58,817.82 301.59,815.43 301.67,813.32 301.8,811.41 301.99,809.65 302.22,807.99 302.52,806.36 302.88,804.71 303.26,803.11 303.66,801.6 304.11,800.13 304.67,798.64 305.35,797.07 306.22,795.37 307.27,793.53 308.5,791.59 309.85,789.58 311.32,787.51 312.86,785.41 314.44,783.29 316.11,781.1 317.9,778.82 319.75,776.51 321.65,774.22 323.55,772.01 325.41,769.96 327.24,768.02 329.07,766.16 330.89,764.38 332.72,762.71 334.55,761.16 336.38,759.74 338.17,758.47 339.93,757.33 341.69,756.31 343.49,755.4 345.36,754.6 347.34,753.89 349.5,753.24 351.81,752.66 354.2,752.19 356.59,751.86 358.9,751.7 361.05,751.77 363.04,752.04 364.91,752.49 366.7,753.12 368.46,753.93 370.22,754.93 372.02,756.13 373.89,757.59 375.8,759.33 377.72,761.26 379.6,763.3 381.39,765.35 383.07,767.34 384.64,769.31 386.13,771.32 387.53,773.35 388.86,775.38 390.12,777.37 391.3,779.3 392.39,781.13 393.38,782.87 394.3,784.57 395.16,786.3 395.98,788.09 396.78,790.01 397.59,792.24 398.41,794.76 399.18,797.35 399.88,799.79 400.46,801.86 400.89,803.34" fill="none" stroke="#00b0f0" stroke-width="1.05" stroke-linejoin="round" />
<polyline points="303.58,857.3 303.46,855.96 303.28,854.11 303.07,851.92 302.85,849.55 302.64,847.14 302.46,844.87 302.3,842.72 302.14,840.56 302,838.38 301.86,836.15 301.74,833.84 301.63,831.45 301.51,828.87 301.38,826.11 301.27,823.28 301.18,820.48 301.14,817.84 301.17,815.45 301.27,813.34 301.41,811.43 301.59,809.66 301.83,807.99 302.13,806.36 302.5,804.71 302.89,803.1 303.3,801.59 303.77,800.11 304.33,798.62 305.04,797.05 305.93,795.34 307.02,793.5 308.27,791.56 309.67,789.54 311.17,787.46 312.75,785.36 314.38,783.23 316.1,781.04 317.93,778.76 319.84,776.44 321.79,774.14 323.74,771.93 325.65,769.87 327.53,767.94 329.41,766.07 331.29,764.29 333.17,762.61 335.04,761.05 336.92,759.64 338.77,758.36 340.57,757.22 342.38,756.19 344.23,755.28 346.15,754.48 348.19,753.77 350.41,753.12 352.78,752.54 355.24,752.07 357.69,751.73 360.06,751.58 362.28,751.64 364.32,751.92 366.24,752.37 368.09,752.99 369.89,753.81 371.7,754.81 373.55,756.01 375.47,757.48 377.44,759.22 379.41,761.16 381.33,763.2 383.18,765.26 384.91,767.25 386.52,769.22 388.05,771.24 389.49,773.28 390.86,775.31 392.15,777.3 393.36,779.24 394.48,781.07 395.5,782.81 396.44,784.52 397.33,786.25 398.17,788.05 399,789.98 399.83,792.2 400.67,794.73 401.46,797.33 402.18,799.77 402.78,801.85 403.22,803.33" fill="none" stroke="#0070c0" stroke-width="1.05" stroke-linejoin="round" />
<polyline points="317.05,857.3 316.85,855.96 316.59,854.11 316.27,851.92 315.93,849.55 315.6,847.14 315.3,844.87 315.04,842.72 314.78,840.56 314.52,838.37 314.28,836.14 314.04,833.84 313.81,831.45 313.55,828.88 313.28,826.15 313.01,823.35 312.78,820.58 312.62,817.96 312.56,815.57 312.61,813.45 312.73,811.51 312.92,809.72 313.18,808.01 313.5,806.34 313.86,804.66 314.25,803.03 314.66,801.49 315.12,800 315.68,798.48 316.38,796.88 317.26,795.15 318.33,793.28 319.57,791.31 320.95,789.26 322.43,787.15 324,785.01 325.61,782.85 327.3,780.63 329.11,778.31 331,775.95 332.92,773.62 334.85,771.38 336.74,769.29 338.59,767.32 340.45,765.42 342.3,763.61 344.16,761.91 346.01,760.33 347.87,758.89 349.69,757.6 351.48,756.43 353.26,755.4 355.09,754.47 356.99,753.65 359,752.93 361.19,752.27 363.54,751.69 365.96,751.2 368.38,750.86 370.73,750.71 372.92,750.77 374.93,751.05 376.83,751.51 378.65,752.15 380.44,752.97 382.22,753.99 384.05,755.21 385.95,756.7 387.89,758.47 389.83,760.44 391.74,762.51 393.57,764.6 395.27,766.62 396.86,768.62 398.37,770.67 399.8,772.74 401.15,774.81 402.42,776.83 403.62,778.8 404.72,780.66 405.73,782.43 406.66,784.16 407.54,785.92 408.37,787.74 409.19,789.7 410.01,791.97 410.83,794.53 411.62,797.17 412.33,799.65 412.92,801.76 413.36,803.27" fill="none" stroke="#00b050" stroke-width="1.05" stroke-linejoin="round" />
<polyline points="319.79,857.3 319.53,855.96 319.17,854.11 318.74,851.92 318.29,849.55 317.84,847.14 317.43,844.87 317.05,842.72 316.69,840.56 316.33,838.37 315.97,836.14 315.62,833.84 315.27,831.45 314.88,828.88 314.45,826.15 314.03,823.35 313.65,820.58 313.37,817.96 313.22,815.57 313.23,813.45 313.34,811.51 313.55,809.72 313.83,808.01 314.17,806.34 314.55,804.66 314.95,803.03 315.36,801.49 315.84,800 316.41,798.48 317.12,796.88 318.01,795.15 319.11,793.28 320.37,791.31 321.78,789.26 323.29,787.15 324.89,785.01 326.53,782.85 328.26,780.63 330.1,778.31 332.03,775.95 333.99,773.62 335.96,771.38 337.88,769.29 339.77,767.32 341.67,765.42 343.56,763.61 345.45,761.91 347.34,760.33 349.23,758.89 351.09,757.6 352.91,756.43 354.73,755.4 356.59,754.47 358.53,753.65 360.59,752.93 362.82,752.27 365.21,751.69 367.68,751.2 370.15,750.86 372.54,750.71 374.78,750.77 376.83,751.05 378.77,751.51 380.63,752.15 382.44,752.97 384.27,753.99 386.13,755.21 388.07,756.7 390.05,758.47 392.03,760.44 393.97,762.51 395.83,764.6 397.57,766.62 399.19,768.62 400.73,770.67 402.19,772.74 403.57,774.81 404.86,776.83 406.09,778.8 407.21,780.66 408.24,782.43 409.19,784.16 410.08,785.92 410.93,787.74 411.76,789.7 412.6,791.97 413.44,794.53 414.25,797.17 414.97,799.65 415.57,801.76 416.02,803.27" fill="none" stroke="#00640a" stroke-width="1.05" stroke-linejoin="round" />
<polyline points="319.79,857.3 319.6,855.96 319.33,854.11 319.01,851.92 318.67,849.55 318.34,847.14 318.04,844.87 317.78,842.72 317.52,840.56 317.27,838.37 317.02,836.13 316.78,833.83 316.55,831.45 316.3,828.9 316.02,826.18 315.75,823.4 315.52,820.65 315.36,818.04 315.3,815.66 315.35,813.53 315.48,811.58 315.68,809.76 315.95,808.03 316.28,806.33 316.66,804.63 317.06,802.98 317.48,801.43 317.96,799.91 318.54,798.38 319.27,796.77 320.18,795.02 321.29,793.12 322.58,791.13 324.01,789.06 325.56,786.93 327.18,784.76 328.85,782.58 330.61,780.34 332.49,777.99 334.45,775.61 336.46,773.25 338.46,770.98 340.42,768.87 342.34,766.88 344.27,764.96 346.2,763.13 348.13,761.41 350.05,759.81 351.98,758.36 353.87,757.05 355.73,755.87 357.58,754.82 359.48,753.89 361.45,753.06 363.54,752.33 365.82,751.67 368.26,751.07 370.77,750.59 373.29,750.24 375.72,750.09 378,750.15 380.09,750.43 382.06,750.89 383.96,751.54 385.81,752.38 387.66,753.41 389.56,754.64 391.53,756.15 393.55,757.93 395.57,759.92 397.55,762.01 399.45,764.13 401.22,766.18 402.87,768.2 404.44,770.27 405.92,772.36 407.32,774.45 408.65,776.5 409.89,778.48 411.04,780.36 412.08,782.15 413.05,783.91 413.96,785.68 414.83,787.53 415.67,789.51 416.53,791.79 417.38,794.39 418.2,797.05 418.94,799.57 419.55,801.7 420.01,803.22" fill="none" stroke="#ffc000" stroke-width="1.05" stroke-linejoin="round" />
<polyline points="324.44,857.3 324.25,855.96 323.98,854.11 323.66,851.92 323.33,849.55 322.99,847.14 322.7,844.87 322.43,842.72 322.17,840.55 321.92,838.36 321.67,836.13 321.43,833.83 321.2,831.45 320.95,828.9 320.67,826.2 320.4,823.43 320.17,820.7 320.01,818.09 319.96,815.71 320.01,813.57 320.14,811.61 320.35,809.78 320.62,808.03 320.96,806.33 321.35,804.61 321.77,802.95 322.2,801.39 322.7,799.86 323.3,798.32 324.05,796.7 324.99,794.94 326.14,793.03 327.47,791.02 328.94,788.94 330.54,786.79 332.21,784.62 333.94,782.42 335.75,780.16 337.69,777.8 339.72,775.4 341.78,773.03 343.84,770.75 345.87,768.62 347.86,766.61 349.84,764.68 351.83,762.84 353.82,761.11 355.81,759.5 357.8,758.04 359.75,756.72 361.67,755.54 363.58,754.48 365.53,753.54 367.57,752.71 369.73,751.97 372.08,751.31 374.59,750.71 377.19,750.22 379.78,749.87 382.3,749.71 384.64,749.78 386.8,750.06 388.84,750.53 390.79,751.18 392.7,752.02 394.61,753.06 396.57,754.3 398.61,755.81 400.69,757.61 402.77,759.61 404.81,761.72 406.77,763.85 408.6,765.91 410.3,767.94 411.92,770.03 413.45,772.13 414.9,774.23 416.26,776.29 417.55,778.29 418.73,780.19 419.81,781.99 420.81,783.75 421.74,785.54 422.64,787.4 423.51,789.39 424.4,791.69 425.28,794.3 426.12,796.98 426.88,799.51 427.52,801.66 427.99,803.19" fill="none" stroke="#ff9200" stroke-width="1.05" stroke-linejoin="round" />
</g>
<text x="271" y="861" font-size="10.5" text-anchor="end" font-weight="normal" fill="#000" >-0.04</text>
<text x="271" y="836.14" font-size="10.5" text-anchor="end" font-weight="normal" fill="#000" >-0.02</text>
<text x="271" y="811.28" font-size="10.5" text-anchor="end" font-weight="normal" fill="#000" >0</text>
<text x="271" y="786.42" font-size="10.5" text-anchor="end" font-weight="normal" fill="#000" >0.02</text>
<text x="271" y="761.56" font-size="10.5" text-anchor="end" font-weight="normal" fill="#000" >0.04</text>
<text x="271" y="736.7" font-size="10.5" text-anchor="end" font-weight="normal" fill="#000" >0.06</text>
<text x="280.4" y="873" font-size="10.5" text-anchor="middle" font-weight="normal" fill="#000" >0.1</text>
<text x="321.95" y="873" font-size="10.5" text-anchor="middle" font-weight="normal" fill="#000" >0.15</text>
<text x="363.5" y="873" font-size="10.5" text-anchor="middle" font-weight="normal" fill="#000" >0.2</text>
<text x="405.05" y="873" font-size="10.5" text-anchor="middle" font-weight="normal" fill="#000" >0.25</text>
<text x="446.6" y="873" font-size="10.5" text-anchor="middle" font-weight="normal" fill="#000" >0.3</text>
<text x="231.5" y="736.8" font-size="10.5" text-anchor="start" font-weight="normal" fill="#000" >g)</text>
<text transform="translate(242.0,789) rotate(-90)" font-size="10.2" font-weight="bold" text-anchor="middle">-Z'' [&#937; cm<tspan font-size="6.3" dy="2.5">elec</tspan><tspan font-size="6.3" dy="-6">2</tspan><tspan dy="3.5">]</tspan></text>
<text x="333.2" y="885.4" font-size="10.2" font-weight="bold">Z' [&#937; cm<tspan font-size="6.3" dy="2.5">elec</tspan><tspan font-size="6.3" dy="-6">2</tspan><tspan dy="3.5">]</tspan></text>
<text x="475.8" y="738.2" font-size="9.4" text-anchor="middle" font-weight="normal" fill="#000" >Cycle</text>
<text x="514.6" y="738.2" font-size="9.4" text-anchor="middle">R<tspan font-size="6.2" dy="1.5">s</tspan></text>
<text x="558.0" y="738.2" font-size="9.4" text-anchor="middle">R<tspan font-size="6.2" dy="1.5">p,&#945;</tspan></text>
<text x="607.8" y="738.2" font-size="9.4" text-anchor="middle">C<tspan font-size="6.2" dy="1.5">&#945;</tspan></text>
<text x="475.8" y="756.2" font-size="9.4" text-anchor="middle" font-weight="normal" fill="#000" >[# k]</text>
<text x="514.6" y="756.2" font-size="9.4" text-anchor="middle">[&#937; cm<tspan font-size="6.2" dy="-3.5">2</tspan><tspan dy="3.5">]</tspan></text>
<text x="558.0" y="756.2" font-size="9.4" text-anchor="middle">[&#937; cm<tspan font-size="6.2" dy="-3.5">2</tspan><tspan dy="3.5">]</tspan></text>
<text x="607.8" y="756.2" font-size="9.4" text-anchor="middle">[mF cm<tspan font-size="6.2" dy="-3.5">&#8722;2</tspan><tspan dy="3.5">]</tspan></text>
<line x1="459.5" y1="761.3" x2="637" y2="761.3" stroke="#404040" stroke-width="1.1" />
<line x1="493" y1="725.5" x2="493" y2="902" stroke="#808080" stroke-width="1.3" />
<text x="475.8" y="773.8" font-size="9.4" text-anchor="middle" font-weight="normal" fill="#000" >0</text>
<text x="514.6" y="773.8" font-size="9.4" text-anchor="middle" font-weight="normal" fill="#000" >0.127</text>
<text x="558" y="773.8" font-size="9.4" text-anchor="middle" font-weight="normal" fill="#000" >0.114</text>
<text x="607.8" y="773.8" font-size="9.4" text-anchor="middle" font-weight="normal" fill="#000" >22.0</text>
<text x="475.8" y="791.3" font-size="9.4" text-anchor="middle" font-weight="normal" fill="#000" >4.5</text>
<text x="514.6" y="791.3" font-size="9.4" text-anchor="middle" font-weight="normal" fill="#000" >0.127</text>
<text x="558" y="791.3" font-size="9.4" text-anchor="middle" font-weight="normal" fill="#000" >0.115</text>
<text x="607.8" y="791.3" font-size="9.4" text-anchor="middle" font-weight="normal" fill="#000" >21.9</text>
<text x="475.8" y="808.8" font-size="9.4" text-anchor="middle" font-weight="normal" fill="#000" >9</text>
<text x="514.6" y="808.8" font-size="9.4" text-anchor="middle" font-weight="normal" fill="#000" >0.128</text>
<text x="558" y="808.8" font-size="9.4" text-anchor="middle" font-weight="normal" fill="#000" >0.116</text>
<text x="607.8" y="808.8" font-size="9.4" text-anchor="middle" font-weight="normal" fill="#000" >21.8</text>
<text x="475.8" y="826.3" font-size="9.4" text-anchor="middle" font-weight="normal" fill="#000" >13.5</text>
<text x="514.6" y="826.3" font-size="9.4" text-anchor="middle" font-weight="normal" fill="#000" >0.130</text>
<text x="558" y="826.3" font-size="9.4" text-anchor="middle" font-weight="normal" fill="#000" >0.117</text>
<text x="607.8" y="826.3" font-size="9.4" text-anchor="middle" font-weight="normal" fill="#000" >17.2</text>
<text x="475.8" y="843.8" font-size="9.4" text-anchor="middle" font-weight="normal" fill="#000" >18</text>
<text x="514.6" y="843.8" font-size="9.4" text-anchor="middle" font-weight="normal" fill="#000" >0.140</text>
<text x="558" y="843.8" font-size="9.4" text-anchor="middle" font-weight="normal" fill="#000" >0.120</text>
<text x="607.8" y="843.8" font-size="9.4" text-anchor="middle" font-weight="normal" fill="#000" >16.8</text>
<text x="475.8" y="861.3" font-size="9.4" text-anchor="middle" font-weight="normal" fill="#000" >22.5</text>
<text x="514.6" y="861.3" font-size="9.4" text-anchor="middle" font-weight="normal" fill="#000" >0.141</text>
<text x="558" y="861.3" font-size="9.4" text-anchor="middle" font-weight="normal" fill="#000" >0.122</text>
<text x="607.8" y="861.3" font-size="9.4" text-anchor="middle" font-weight="normal" fill="#000" >16.5</text>
<text x="475.8" y="878.8" font-size="9.4" text-anchor="middle" font-weight="normal" fill="#000" >27</text>
<text x="514.6" y="878.8" font-size="9.4" text-anchor="middle" font-weight="normal" fill="#000" >0.142</text>
<text x="558" y="878.8" font-size="9.4" text-anchor="middle" font-weight="normal" fill="#000" >0.125</text>
<text x="607.8" y="878.8" font-size="9.4" text-anchor="middle" font-weight="normal" fill="#000" >12.7</text>
<text x="475.8" y="896.3" font-size="9.4" text-anchor="middle" font-weight="normal" fill="#000" >31.5</text>
<text x="514.6" y="896.3" font-size="9.4" text-anchor="middle" font-weight="normal" fill="#000" >0.148</text>
<text x="558" y="896.3" font-size="9.4" text-anchor="middle" font-weight="normal" fill="#000" >0.127</text>
<text x="607.8" y="896.3" font-size="9.4" text-anchor="middle" font-weight="normal" fill="#000" >12.5</text>
</svg>
</body></html>
